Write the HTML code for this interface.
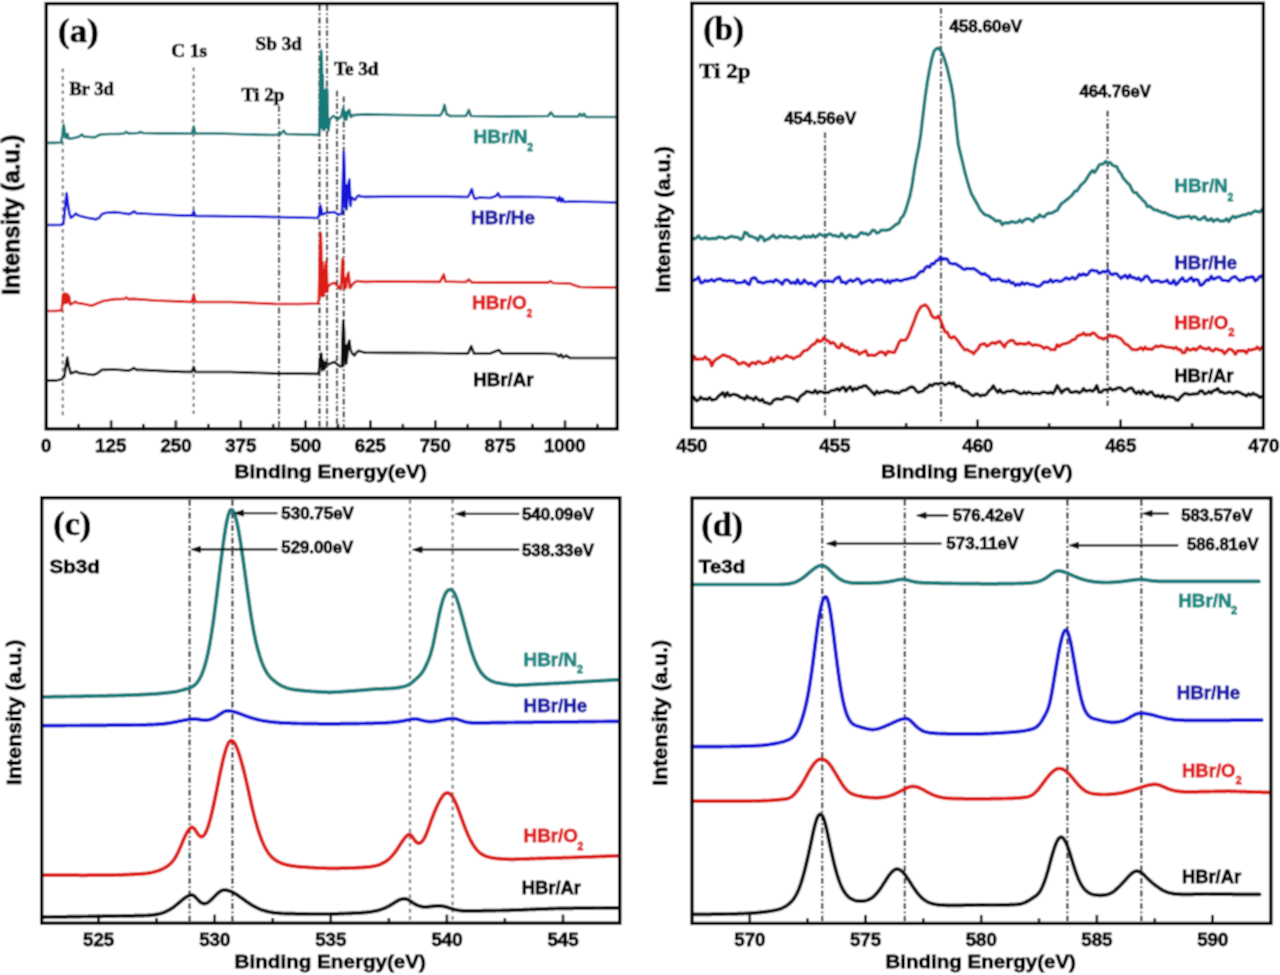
<!DOCTYPE html><html><head><meta charset="utf-8"><style>html,body{margin:0;padding:0;background:#fff;}svg{display:block;}</style></head><body>
<div id="w"><svg width="1280" height="975" viewBox="0 0 1280 975">
<defs><filter id="bl" filterUnits="userSpaceOnUse" x="0" y="0" width="1280" height="975"><feConvolveMatrix order="3" kernelMatrix="1 2 1 2 4 2 1 2 1" divisor="16" edgeMode="duplicate"/></filter></defs>
<g filter="url(#bl)">
<rect width="1280" height="975" fill="#fff"/>
<line x1="62.8" y1="68.5" x2="62.8" y2="416" stroke="#808080" stroke-width="2.3" stroke-dasharray="3.7 3.6"/>
<line x1="193.6" y1="67.5" x2="193.6" y2="414" stroke="#808080" stroke-width="2.3" stroke-dasharray="3.7 3.6"/>
<line x1="279" y1="106" x2="279" y2="428" stroke="#303030" stroke-width="2.2" stroke-dasharray="5.8 2.5 1.8 2.5"/>
<line x1="319.5" y1="5" x2="319.5" y2="427" stroke="#303030" stroke-width="2.2" stroke-dasharray="5.8 2.5 1.8 2.5"/>
<line x1="327.0" y1="5" x2="327.0" y2="427" stroke="#303030" stroke-width="2.2" stroke-dasharray="5.8 2.5 1.8 2.5"/>
<line x1="337" y1="90.7" x2="337" y2="427" stroke="#303030" stroke-width="2.2" stroke-dasharray="5.8 2.5 1.8 2.5"/>
<line x1="343.8" y1="96.4" x2="343.8" y2="427" stroke="#303030" stroke-width="2.2" stroke-dasharray="5.8 2.5 1.8 2.5"/>
<path d="M46.2 142.8 L55 142.8 L61 142.5 L62.5 135 L63.7 125 L64.8 133 L65.8 138 L66.8 135 L67.5 133.8 L68.5 138.5 L70 138.8 L75 137.8 L79 136.8 L81.7 134.5 L84 136.6 L90 137 L94.6 137.4 L100.3 134.5 L110 134 L119 133.8 L124 133.5 L126.2 131.9 L128.5 133.3 L138 133 L140.6 131.9 L143 133 L160 133.3 L169.3 133.3 L185 133.5 L192 133.5 L193.7 126.6 L195.3 133.5 L220 133.5 L250 134.5 L274 135 L280 134.5 L283.7 130.8 L286 134 L300 134.5 L318.5 134.8 L319.5 131 L320.3 70 L321.2 50.8 L321.8 62 L322.2 128 L322.7 75 L323.2 130 L323.7 90 L324.2 130 L324.8 100 L325.4 128 L326 95 L326.6 88.5 L327.2 90 L327.8 122 L328.4 130.5 L329.8 119.7 L331.5 117.5 L333.6 116 L335.5 117.5 L337.3 119.2 L339.5 118 L341.5 116 L342.6 110 L343.3 107.9 L344 112 L344.7 119.5 L345.5 112 L346.3 119.7 L347.3 115 L348.3 111 L349.2 110 L350.2 114 L351 117 L352.4 115.4 L356 114.8 L365 114.4 L400 115 L440 115.5 L442.5 112 L444.5 105 L446.5 114 L450 116 L466 116 L468.8 110 L471 116 L500 116.5 L548 116 L551 112.5 L554 116.5 L578 116.5 L580 113.8 L582 116 L584 113.8 L586 117 L600 117 L617 117" fill="none" stroke="#167a7a" stroke-width="2.7" stroke-linejoin="round" stroke-linecap="round"/>
<path d="M46.2 225 L55 225 L61 225 L63.5 223.5 L65.3 205 L66.6 193.4 L68 205 L69.5 214 L70.9 217.8 L73.5 216 L75.9 213.5 L78.5 215.5 L86 217.5 L96 219.3 L99 218 L101.8 214.2 L105 213 L114.7 212.1 L122 213 L129 214.2 L131.5 213 L134.1 211.4 L136.5 213.2 L140.6 213.5 L160 214.5 L183.7 215.7 L192 215.7 L193.7 211.4 L195.3 215.8 L250 216.5 L300 217.5 L317.5 218 L318.9 216 L320.2 205.6 L321.2 209 L322 214.5 L323.5 213.9 L326 213 L330 212.5 L334.5 212 L336.5 213.5 L338.2 214.8 L340.5 214 L342 213.9 L342.8 185 L343.8 152 L344.6 175 L345.2 207.4 L345.9 185 L346.5 209.3 L347.3 200 L348.3 185 L349.3 179.7 L350.1 195 L350.7 206 L351.2 197.2 L353 198.5 L354.9 200 L356.8 197 L358.6 195.4 L361 196.5 L365 196.8 L400 196.5 L440 196.5 L460 196.8 L468 197 L470 193 L471.8 189.1 L473.5 196 L475 198.8 L480 197.5 L490 198 L496 196 L498 193.2 L500 197 L520 196.8 L540 197 L552 197.5 L556 198 L558 201 L559.5 197 L561 201.5 L562.5 198.5 L564 202 L570 201.5 L600 202 L617 202.5" fill="none" stroke="#1212d6" stroke-width="2.7" stroke-linejoin="round" stroke-linecap="round"/>
<path d="M46.2 311 L55 311 L61.6 310.5 L62.5 302 L63.3 294 L64.2 303 L65.2 293.5 L66.2 303 L67.2 294 L68.2 302 L69 296 L70.2 304.5 L72.5 303.5 L75.2 301.7 L78 303 L83.1 303.8 L91.7 305.7 L97 303.5 L103.2 301 L114.7 299.1 L124 299 L126.2 297.5 L128.5 299.2 L133.4 298.8 L155 300.5 L183.7 301.7 L192 301.8 L193.7 294.5 L195.3 301.9 L230 302 L274 303.8 L300 304 L317.7 303.5 L318.9 300 L320 240 L320.7 232.9 L321.3 250 L321.8 296 L322.3 262 L322.8 294 L323.3 270 L323.8 296 L324.3 275 L325 292 L325.6 266 L326.2 261.5 L326.8 275 L327.3 292 L328 286.5 L331 284 L334.5 282.8 L337.5 286 L340.5 289.3 L341.5 280 L342.3 262 L342.9 258.8 L343.5 270 L344.2 288 L345 278 L345.8 288 L346.6 280 L347.5 276 L348.4 272.6 L349.2 280 L350 288 L351.5 286 L353 283.7 L356.7 281 L365 281.9 L380 281.5 L440 281.8 L442 278 L443.8 274.5 L445.5 281.5 L460 282 L466 282 L468.8 279.5 L472 282.5 L500 282.7 L548 282.7 L550.4 281.2 L553 283 L570 283.5 L575 285.5 L580 287 L600 287.3 L617 287.5" fill="none" stroke="#dc1a16" stroke-width="2.7" stroke-linejoin="round" stroke-linecap="round"/>
<path d="M46.2 380.7 L55 380.7 L61.6 379.3 L64.4 376.4 L65.8 366 L67.3 357.7 L68.8 367 L70.9 373.5 L73.5 372.5 L75.9 371.4 L78.5 372.8 L83.1 373.5 L93.2 375 L97 373.5 L101.8 369.9 L114.7 369.5 L129 370.6 L131.5 369.5 L134.1 368 L136.5 369.8 L140.6 369.9 L160 370.8 L183.7 371.8 L192 371.8 L193.7 367 L195.3 371.9 L230 372 L274 373.4 L300 373.6 L317.7 373.9 L318.9 372 L320.2 358 L321.2 353.6 L321.8 362 L322.3 370.2 L322.8 360 L323.4 369.5 L324.1 362 L324.8 368.5 L325.5 363 L326.2 362.8 L328 364.6 L331 363.2 L334.5 361.9 L337 364 L339.2 366 L342 366.5 L342.6 340 L343.3 320.8 L344 330 L344.7 360 L345.4 345 L346.2 363.7 L347.2 355 L348.3 344 L349.3 340.6 L350.2 348 L351.2 351.7 L352.8 354 L354.4 355.4 L356.5 352.5 L358.6 350.8 L361.5 351.8 L365 352.6 L400 352.8 L430 353 L460 353.5 L468 353.5 L471.2 346.2 L474 353.5 L490 353.5 L498.8 350 L502 353.5 L540 353.5 L556 354 L559 356.5 L561 354.5 L563 357.5 L566 355.5 L570 358 L600 358 L617 358" fill="none" stroke="#080808" stroke-width="2.7" stroke-linejoin="round" stroke-linecap="round"/>
<rect x="46.2" y="3.6" width="571.1" height="425.3" fill="none" stroke="#000" stroke-width="3.4"/>
<line x1="46.2" y1="428.9" x2="46.2" y2="420.4" stroke="#000" stroke-width="2.6"/>
<text x="41.01" y="451.70" font-family='"Liberation Sans", sans-serif' font-weight="bold" font-size="18.7" fill="#000" stroke="#000" stroke-width="0.8">0</text>
<line x1="111.1" y1="428.9" x2="111.1" y2="420.4" stroke="#000" stroke-width="2.6"/>
<text x="95.11" y="451.70" font-family='"Liberation Sans", sans-serif' font-weight="bold" font-size="18.7" fill="#000" stroke="#000" stroke-width="0.8">125</text>
<line x1="175.9" y1="428.9" x2="175.9" y2="420.4" stroke="#000" stroke-width="2.6"/>
<text x="160.38" y="451.70" font-family='"Liberation Sans", sans-serif' font-weight="bold" font-size="18.7" fill="#000" stroke="#000" stroke-width="0.8">250</text>
<line x1="240.8" y1="428.9" x2="240.8" y2="420.4" stroke="#000" stroke-width="2.6"/>
<text x="225.18" y="451.70" font-family='"Liberation Sans", sans-serif' font-weight="bold" font-size="18.7" fill="#000" stroke="#000" stroke-width="0.8">375</text>
<line x1="305.6" y1="428.9" x2="305.6" y2="420.4" stroke="#000" stroke-width="2.6"/>
<text x="290.13" y="451.70" font-family='"Liberation Sans", sans-serif' font-weight="bold" font-size="18.7" fill="#000" stroke="#000" stroke-width="0.8">500</text>
<line x1="370.4" y1="428.9" x2="370.4" y2="420.4" stroke="#000" stroke-width="2.6"/>
<text x="354.79" y="451.70" font-family='"Liberation Sans", sans-serif' font-weight="bold" font-size="18.7" fill="#000" stroke="#000" stroke-width="0.8">625</text>
<line x1="435.3" y1="428.9" x2="435.3" y2="420.4" stroke="#000" stroke-width="2.6"/>
<text x="419.69" y="451.70" font-family='"Liberation Sans", sans-serif' font-weight="bold" font-size="18.7" fill="#000" stroke="#000" stroke-width="0.8">750</text>
<line x1="500.2" y1="428.9" x2="500.2" y2="420.4" stroke="#000" stroke-width="2.6"/>
<text x="484.54" y="451.70" font-family='"Liberation Sans", sans-serif' font-weight="bold" font-size="18.7" fill="#000" stroke="#000" stroke-width="0.8">875</text>
<line x1="565.0" y1="428.9" x2="565.0" y2="420.4" stroke="#000" stroke-width="2.6"/>
<text x="543.96" y="451.70" font-family='"Liberation Sans", sans-serif' font-weight="bold" font-size="18.7" fill="#000" stroke="#000" stroke-width="0.8">1000</text>
<line x1="78.6" y1="428.9" x2="78.6" y2="423.9" stroke="#000" stroke-width="2.6"/>
<line x1="143.5" y1="428.9" x2="143.5" y2="423.9" stroke="#000" stroke-width="2.6"/>
<line x1="208.3" y1="428.9" x2="208.3" y2="423.9" stroke="#000" stroke-width="2.6"/>
<line x1="273.2" y1="428.9" x2="273.2" y2="423.9" stroke="#000" stroke-width="2.6"/>
<line x1="338.0" y1="428.9" x2="338.0" y2="423.9" stroke="#000" stroke-width="2.6"/>
<line x1="402.9" y1="428.9" x2="402.9" y2="423.9" stroke="#000" stroke-width="2.6"/>
<line x1="467.7" y1="428.9" x2="467.7" y2="423.9" stroke="#000" stroke-width="2.6"/>
<line x1="532.6" y1="428.9" x2="532.6" y2="423.9" stroke="#000" stroke-width="2.6"/>
<line x1="597.4" y1="428.9" x2="597.4" y2="423.9" stroke="#000" stroke-width="2.6"/>
<text x="58.08" y="41.80" font-family='"Liberation Serif", serif' font-weight="bold" font-size="33" fill="#000" stroke="#000" stroke-width="0.7" textLength="40.60" lengthAdjust="spacingAndGlyphs">(a)</text>
<text x="69.17" y="95.10" font-family='"Liberation Serif", serif' font-weight="bold" font-size="18" fill="#000" stroke="#000" stroke-width="0.7" textLength="44.65" lengthAdjust="spacingAndGlyphs">Br 3d</text>
<text x="171.19" y="57.30" font-family='"Liberation Serif", serif' font-weight="bold" font-size="18" fill="#000" stroke="#000" stroke-width="0.7" textLength="35.77" lengthAdjust="spacingAndGlyphs">C 1s</text>
<text x="255.49" y="49.50" font-family='"Liberation Serif", serif' font-weight="bold" font-size="18" fill="#000" stroke="#000" stroke-width="0.7" textLength="46.52" lengthAdjust="spacingAndGlyphs">Sb 3d</text>
<text x="241.41" y="101.10" font-family='"Liberation Serif", serif' font-weight="bold" font-size="18" fill="#000" stroke="#000" stroke-width="0.7" textLength="43.17" lengthAdjust="spacingAndGlyphs">Ti 2p</text>
<text x="333.91" y="75.00" font-family='"Liberation Serif", serif' font-weight="bold" font-size="18" fill="#000" stroke="#000" stroke-width="0.7" textLength="44.58" lengthAdjust="spacingAndGlyphs">Te 3d</text>
<text x="473.61" y="143.40" font-family='"Liberation Sans", sans-serif' font-weight="bold" font-size="18.5" fill="#1f8a84" stroke="#1f8a84" stroke-width="0.8" textLength="53.84" lengthAdjust="spacingAndGlyphs">HBr/N</text>
<text x="527.29" y="151.40" font-family='"Liberation Sans", sans-serif' font-weight="bold" font-size="11" fill="#1f8a84" stroke="#1f8a84" stroke-width="0.8" textLength="5.79" lengthAdjust="spacingAndGlyphs">2</text>
<text x="471.13" y="224.00" font-family='"Liberation Sans", sans-serif' font-weight="bold" font-size="18.5" fill="#2020a8" stroke="#2020a8" stroke-width="0.8" textLength="63.78" lengthAdjust="spacingAndGlyphs">HBr/He</text>
<text x="472.02" y="309.00" font-family='"Liberation Sans", sans-serif' font-weight="bold" font-size="18.5" fill="#e02222" stroke="#e02222" stroke-width="0.8" textLength="54.61" lengthAdjust="spacingAndGlyphs">HBr/O</text>
<text x="526.71" y="317.30" font-family='"Liberation Sans", sans-serif' font-weight="bold" font-size="11" fill="#e02222" stroke="#e02222" stroke-width="0.8" textLength="5.45" lengthAdjust="spacingAndGlyphs">2</text>
<text x="473.34" y="385.60" font-family='"Liberation Sans", sans-serif' font-weight="bold" font-size="18.5" fill="#000000" stroke="#000000" stroke-width="0.8" textLength="60.20" lengthAdjust="spacingAndGlyphs">HBr/Ar</text>
<text x="234.60" y="477.70" font-family='"Liberation Sans", sans-serif' font-weight="bold" font-size="19.2" fill="#000" stroke="#000" stroke-width="0.8" textLength="192.25" lengthAdjust="spacingAndGlyphs">Binding Energy(eV)</text>
<text transform="translate(19.30,295.09) rotate(-90)" x="0" y="0" font-family='"Liberation Sans", sans-serif' font-weight="bold" font-size="23.3" fill="#000" stroke="#000" stroke-width="0.8" textLength="160.39" lengthAdjust="spacingAndGlyphs">Intensity (a.u.)</text>
<line x1="825" y1="132.5" x2="825" y2="416" stroke="#303030" stroke-width="2.2" stroke-dasharray="5.8 2.5 1.8 2.5"/>
<line x1="941" y1="8" x2="941" y2="424" stroke="#303030" stroke-width="2.2" stroke-dasharray="5.8 2.5 1.8 2.5"/>
<line x1="1107.6" y1="110.7" x2="1107.6" y2="406" stroke="#303030" stroke-width="2.2" stroke-dasharray="5.8 2.5 1.8 2.5"/>
<path d="M692 238 L694.2 238.9 L696.4 237.8 L698.6 235.8 L700.8 238.9 L703 238.6 L705.2 237.2 L707.4 238.8 L709.6 238.8 L711.8 238.5 L714 238.3 L716.2 238.7 L718.4 236.9 L720.6 237.4 L722.8 237.3 L725 238.8 L727.2 238 L729.4 237.1 L731.6 236.2 L733.8 236.9 L736 237.3 L738.2 237.3 L740.4 239.6 L742.6 238.4 L744.8 232.3 L747 233 L749.2 236 L751.4 236.3 L753.6 237.3 L755.8 238.1 L758 240.4 L760.2 235.9 L762.4 237 L764.6 240.9 L766.8 239.4 L769 238.8 L771.2 236.7 L773.4 235 L775.6 237.8 L777.8 237.9 L780 235.7 L782.2 236.5 L784.4 237.3 L786.6 236.2 L788.8 237.3 L791 237.7 L793.2 237.3 L795.4 236.6 L797.6 238.2 L799.8 238.7 L802 237.5 L804.2 235.8 L806.4 237.5 L808.6 236.2 L810.8 237.4 L813 235.1 L815.2 237.4 L817.4 236 L819.6 233.9 L821.8 235.1 L824 236.1 L826.2 236.2 L828.4 234.1 L830.6 233.9 L832.8 235.9 L835 235.3 L837.2 236.5 L839.4 236.9 L841.6 233.5 L843.8 236.3 L846 238.1 L848.2 235.6 L850.4 234.8 L852.6 237 L854.8 236.6 L857 236.8 L859.2 234.4 L861.4 232.4 L863.6 233.7 L865.8 233.5 L868 234.8 L870.2 233.4 L872.4 230.2 L874.6 230.5 L876.8 233.1 L879 232.5 L881.2 230.1 L883.4 230.2 L885.6 230.3 L887.8 229.8 L890 229.3 L892.2 227.5 L894.4 225.7 L896.6 224.2 L898.8 223 L901 218.1 L903.2 216 L905.4 210.9 L907.6 203.8 L909.8 196.3 L912 185.7 L914.2 170.7 L916.4 158.3 L918.6 148.2 L920.8 134 L923 115 L925.2 96.7 L927.4 81.4 L929.6 69.5 L931.8 58.8 L934 51.2 L936.2 48.9 L938.4 48 L940.6 50.4 L942.8 54.6 L945 60.6 L947.2 68.2 L949.4 77.7 L951.6 87 L953.8 101.1 L956 124.7 L958.2 144.1 L960.4 153.4 L962.6 162.3 L964.8 171.8 L967 179.9 L969.2 187.3 L971.4 193.7 L973.6 197.6 L975.8 201.6 L978 205.4 L980.2 209.7 L982.4 212.3 L984.6 214.5 L986.8 215.4 L989 215.8 L991.2 217.6 L993.4 218.8 L995.6 221 L997.8 220.7 L1000 220.9 L1002.2 224.8 L1004.4 222.9 L1006.6 222.6 L1008.8 223.1 L1011 221.7 L1013.2 221.8 L1015.4 222.7 L1017.6 222.1 L1019.8 220.1 L1022 222.3 L1024.2 220.2 L1026.4 218.9 L1028.6 218.8 L1030.8 219.7 L1033 221.5 L1035.2 217.8 L1037.4 217.7 L1039.6 214.7 L1041.8 216.5 L1044 217 L1046.2 214.7 L1048.4 213.2 L1050.6 213.3 L1052.8 212.6 L1055 211.2 L1057.2 210.3 L1059.4 206.6 L1061.6 203.6 L1063.8 202 L1066 200.3 L1068.2 198.6 L1070.4 196.6 L1072.6 194.5 L1074.8 191.1 L1077 190.8 L1079.2 187.5 L1081.4 184.5 L1083.6 182.8 L1085.8 180.2 L1088 176.4 L1090.2 173.1 L1092.4 170.5 L1094.6 172.5 L1096.8 169.2 L1099 165.2 L1101.2 164.1 L1103.4 163.8 L1105.6 161.3 L1107.8 162.6 L1110 162.3 L1112.2 164.9 L1114.4 166.2 L1116.6 166.4 L1118.8 171.1 L1121 173.6 L1123.2 178.1 L1125.4 180.5 L1127.6 183.1 L1129.8 185 L1132 189.9 L1134.2 192.7 L1136.4 192.6 L1138.6 195.8 L1140.8 197.8 L1143 200.5 L1145.2 202.2 L1147.4 206.7 L1149.6 206.2 L1151.8 207.8 L1154 209.8 L1156.2 209.8 L1158.4 210.9 L1160.6 211.7 L1162.8 212.8 L1165 212.5 L1167.2 214 L1169.4 215.1 L1171.6 215.6 L1173.8 216.5 L1176 216.8 L1178.2 218.3 L1180.4 217.2 L1182.6 217.3 L1184.8 216.7 L1187 216.7 L1189.2 216.2 L1191.4 218.5 L1193.6 216.6 L1195.8 217.2 L1198 219.3 L1200.2 219.6 L1202.4 218.2 L1204.6 216.5 L1206.8 220 L1209 220.3 L1211.2 218.6 L1213.4 221.4 L1215.6 219.8 L1217.8 219.2 L1220 221.1 L1222.2 221 L1224.4 220.8 L1226.6 218.7 L1228.8 221.7 L1231 218.3 L1233.2 216.2 L1235.4 217.8 L1237.6 216.4 L1239.8 216.3 L1242 215.1 L1244.2 214.8 L1246.4 214.5 L1248.6 213 L1250.8 214 L1253 212.1 L1255.2 210.9 L1257.4 211.7 L1259.6 211.8 L1261.8 210.3 L1262 209.4" fill="none" stroke="#167a7a" stroke-width="3.3" stroke-linejoin="round" stroke-linecap="round"/>
<path d="M692 281.3 L694.2 280.1 L696.4 279.2 L698.6 277 L700.8 282.9 L703 282.6 L705.2 280.2 L707.4 281.4 L709.6 280.6 L711.8 279.5 L714 281.4 L716.2 279.7 L718.4 279.1 L720.6 278.7 L722.8 280.6 L725 280.4 L727.2 281.2 L729.4 280.2 L731.6 281 L733.8 280.4 L736 282.9 L738.2 282.6 L740.4 282.7 L742.6 282.4 L744.8 280.6 L747 283.3 L749.2 284.6 L751.4 278.9 L753.6 277.6 L755.8 278.4 L758 282 L760.2 281.8 L762.4 283.1 L764.6 282.6 L766.8 281.7 L769 281.6 L771.2 281.2 L773.4 282.3 L775.6 279.6 L777.8 280.5 L780 282.3 L782.2 284.4 L784.4 280.6 L786.6 279.6 L788.8 280.8 L791 283.3 L793.2 282.2 L795.4 283.6 L797.6 279.6 L799.8 283.7 L802 283.7 L804.2 279.9 L806.4 282.2 L808.6 284 L810.8 282.7 L813 284.2 L815.2 286.1 L817.4 282.8 L819.6 281 L821.8 280.4 L824 282.3 L826.2 281.3 L828.4 281 L830.6 281.3 L832.8 282 L835 279.2 L837.2 277.6 L839.4 276.9 L841.6 282.4 L843.8 282 L846 283.6 L848.2 281.2 L850.4 279.9 L852.6 281.6 L854.8 280.6 L857 278.6 L859.2 279.6 L861.4 283.8 L863.6 282.3 L865.8 281.7 L868 280.4 L870.2 280 L872.4 282.3 L874.6 280.9 L876.8 279.6 L879 280.3 L881.2 279.5 L883.4 281.4 L885.6 282.7 L887.8 280.3 L890 283 L892.2 280.3 L894.4 280.8 L896.6 279.6 L898.8 280.4 L901 280.9 L903.2 280 L905.4 279.3 L907.6 279 L909.8 278.4 L912 277.5 L914.2 277.6 L916.4 275.9 L918.6 273.5 L920.8 271.3 L923 271.5 L925.2 268.1 L927.4 266.2 L929.6 267.3 L931.8 263.6 L934 263.8 L936.2 260.8 L938.4 260 L940.6 256.8 L942.8 259.4 L945 258.6 L947.2 259 L949.4 263 L951.6 263.8 L953.8 263.9 L956 263.9 L958.2 265.6 L960.4 266.7 L962.6 268.7 L964.8 269.5 L967 268.3 L969.2 268.6 L971.4 268.9 L973.6 268.3 L975.8 269.8 L978 271.4 L980.2 273.3 L982.4 274.5 L984.6 273.4 L986.8 275.6 L989 276.6 L991.2 280.2 L993.4 279.4 L995.6 280.2 L997.8 278.8 L1000 279.3 L1002.2 281.1 L1004.4 281.1 L1006.6 282 L1008.8 280.3 L1011 283.1 L1013.2 282.4 L1015.4 285.7 L1017.6 284 L1019.8 285.2 L1022 282.4 L1024.2 284.5 L1026.4 283.2 L1028.6 283.7 L1030.8 284.7 L1033 284.5 L1035.2 285.6 L1037.4 286.5 L1039.6 286.1 L1041.8 284.2 L1044 281.9 L1046.2 282.1 L1048.4 282 L1050.6 279.6 L1052.8 282.2 L1055 280.9 L1057.2 280.4 L1059.4 281.6 L1061.6 281 L1063.8 279.6 L1066 277.7 L1068.2 279 L1070.4 278.8 L1072.6 277.1 L1074.8 279.1 L1077 277.7 L1079.2 274.1 L1081.4 275.3 L1083.6 273.7 L1085.8 275.4 L1088 274.2 L1090.2 270.9 L1092.4 270.1 L1094.6 270.9 L1096.8 270.8 L1099 273.4 L1101.2 272.4 L1103.4 271.3 L1105.6 272.2 L1107.8 269.8 L1110 273.2 L1112.2 274.8 L1114.4 273.7 L1116.6 273.6 L1118.8 276.1 L1121 278.5 L1123.2 276.5 L1125.4 275.3 L1127.6 278.3 L1129.8 274.9 L1132 277.7 L1134.2 277.4 L1136.4 279.3 L1138.6 277.8 L1140.8 280.7 L1143 279.5 L1145.2 276.3 L1147.4 276.1 L1149.6 279.3 L1151.8 282.2 L1154 281 L1156.2 280.7 L1158.4 280.7 L1160.6 282.2 L1162.8 282 L1165 281.5 L1167.2 280.1 L1169.4 283.4 L1171.6 283.5 L1173.8 280.2 L1176 284.8 L1178.2 282.8 L1180.4 279.8 L1182.6 277.8 L1184.8 281.3 L1187 281.4 L1189.2 279.1 L1191.4 277.5 L1193.6 281.3 L1195.8 279.3 L1198 279.9 L1200.2 285.3 L1202.4 284.8 L1204.6 282.1 L1206.8 279.7 L1209 280.3 L1211.2 276.3 L1213.4 279.3 L1215.6 278.4 L1217.8 277.1 L1220 277.1 L1222.2 280.4 L1224.4 280.4 L1226.6 280.6 L1228.8 281.2 L1231 278.4 L1233.2 277.1 L1235.4 276.5 L1237.6 279 L1239.8 280.8 L1242 279.7 L1244.2 280 L1246.4 277.3 L1248.6 277.6 L1250.8 277 L1253 276.8 L1255.2 280.9 L1257.4 279.5 L1259.6 276.5 L1261.8 275.9 L1262 277" fill="none" stroke="#1212d6" stroke-width="3.3" stroke-linejoin="round" stroke-linecap="round"/>
<path d="M692 361.7 L694.2 356.3 L696.4 359.7 L698.6 359.1 L700.8 359.2 L703 359.2 L705.2 356.8 L707.4 359.1 L709.6 359.9 L711.8 365.9 L714 361.4 L716.2 359.2 L718.4 358.1 L720.6 356.5 L722.8 355 L725 355.3 L727.2 356.5 L729.4 356.7 L731.6 358.8 L733.8 359.2 L736 361 L738.2 363.9 L740.4 363.8 L742.6 362.3 L744.8 362.7 L747 364.4 L749.2 366.2 L751.4 362.9 L753.6 362.6 L755.8 364 L758 361.3 L760.2 362 L762.4 363.8 L764.6 363.3 L766.8 362.4 L769 362.1 L771.2 357.6 L773.4 361.6 L775.6 358.9 L777.8 356.9 L780 358.5 L782.2 358.9 L784.4 356.8 L786.6 355.5 L788.8 356.8 L791 357.1 L793.2 358.8 L795.4 357.6 L797.6 356.3 L799.8 355.9 L802 353 L804.2 350.7 L806.4 350.4 L808.6 348.9 L810.8 346.3 L813 344.4 L815.2 343.5 L817.4 339.8 L819.6 341.6 L821.8 340.7 L824 337.5 L826.2 340.1 L828.4 340.9 L830.6 343.6 L832.8 342.3 L835 344.1 L837.2 347.3 L839.4 347.9 L841.6 343.6 L843.8 345.8 L846 347.6 L848.2 347.5 L850.4 350.3 L852.6 349.7 L854.8 351.8 L857 351.1 L859.2 354.4 L861.4 352.9 L863.6 351.8 L865.8 350.6 L868 355.6 L870.2 355.2 L872.4 355.2 L874.6 355.7 L876.8 354.3 L879 352.4 L881.2 351.8 L883.4 352.4 L885.6 355.1 L887.8 351.3 L890 351.8 L892.2 352.2 L894.4 352.5 L896.6 348.3 L898.8 342.8 L901 340 L903.2 340.4 L905.4 340.2 L907.6 337.3 L909.8 332.5 L912 326.6 L914.2 321.2 L916.4 314.8 L918.6 310.3 L920.8 306.8 L923 305.7 L925.2 304.9 L927.4 306.6 L929.6 310.3 L931.8 315.8 L934 317.7 L936.2 318 L938.4 315.9 L940.6 320.3 L942.8 326.1 L945 331.8 L947.2 332.2 L949.4 336.8 L951.6 338.1 L953.8 336.5 L956 338.4 L958.2 341.2 L960.4 344.5 L962.6 347.3 L964.8 350 L967 349.3 L969.2 351 L971.4 351.7 L973.6 353.8 L975.8 351.1 L978 348.9 L980.2 344.8 L982.4 344.1 L984.6 343.6 L986.8 346.3 L989 345.1 L991.2 343.1 L993.4 342.7 L995.6 343.6 L997.8 341.8 L1000 341.4 L1002.2 344.2 L1004.4 347.1 L1006.6 343 L1008.8 341.5 L1011 340.3 L1013.2 340.4 L1015.4 343.5 L1017.6 344.4 L1019.8 343.3 L1022 343.8 L1024.2 344 L1026.4 344 L1028.6 342.4 L1030.8 344.2 L1033 345.5 L1035.2 344.7 L1037.4 345.2 L1039.6 345.3 L1041.8 346.6 L1044 348.5 L1046.2 347.2 L1048.4 347.7 L1050.6 349.5 L1052.8 349.7 L1055 349.7 L1057.2 344.8 L1059.4 346.5 L1061.6 344.5 L1063.8 343.8 L1066 343.5 L1068.2 342.8 L1070.4 341.5 L1072.6 339.7 L1074.8 339.6 L1077 336.5 L1079.2 335.1 L1081.4 334.8 L1083.6 332.9 L1085.8 335.3 L1088 334.4 L1090.2 335.2 L1092.4 332.8 L1094.6 333.4 L1096.8 335.7 L1099 337.9 L1101.2 337.9 L1103.4 339.4 L1105.6 337.7 L1107.8 337 L1110 334.9 L1112.2 336.8 L1114.4 335.9 L1116.6 336.5 L1118.8 337.8 L1121 338.8 L1123.2 341.6 L1125.4 344 L1127.6 344.9 L1129.8 347 L1132 349.5 L1134.2 349.5 L1136.4 349.9 L1138.6 349.1 L1140.8 347.5 L1143 349.9 L1145.2 347.1 L1147.4 349.4 L1149.6 348.9 L1151.8 349.6 L1154 347.5 L1156.2 345.9 L1158.4 346.9 L1160.6 345.7 L1162.8 346.1 L1165 346.8 L1167.2 347.1 L1169.4 347.5 L1171.6 347.6 L1173.8 348.6 L1176 347.2 L1178.2 349.6 L1180.4 349.3 L1182.6 352.8 L1184.8 352.7 L1187 348 L1189.2 350.1 L1191.4 349.8 L1193.6 348.4 L1195.8 350.1 L1198 348.4 L1200.2 346.2 L1202.4 348.1 L1204.6 348.8 L1206.8 349 L1209 347.7 L1211.2 350.5 L1213.4 351 L1215.6 348.6 L1217.8 349.3 L1220 350.4 L1222.2 350.5 L1224.4 353.8 L1226.6 351.5 L1228.8 349.1 L1231 349.3 L1233.2 351.1 L1235.4 354.4 L1237.6 351 L1239.8 350.7 L1242 351 L1244.2 350.7 L1246.4 353.1 L1248.6 349.5 L1250.8 350.2 L1253 349.4 L1255.2 349.1 L1257.4 346.9 L1259.6 349.7 L1261.8 347.3" fill="none" stroke="#dc1a16" stroke-width="3.3" stroke-linejoin="round" stroke-linecap="round"/>
<path d="M692 395.9 L694.2 397.7 L696.4 400.9 L698.6 400 L700.8 397.1 L703 399.1 L705.2 398.9 L707.4 399.6 L709.6 397.4 L711.8 400 L714 399.7 L716.2 399 L718.4 396.2 L720.6 394.6 L722.8 392.4 L725 396.8 L727.2 392.5 L729.4 395.9 L731.6 394.9 L733.8 394.2 L736 394.9 L738.2 395.6 L740.4 397.4 L742.6 397.8 L744.8 399.5 L747 396 L749.2 398.1 L751.4 398.1 L753.6 400.1 L755.8 397.1 L758 399.5 L760.2 400.8 L762.4 399.3 L764.6 402.7 L766.8 402.6 L769 403.9 L771.2 403.6 L773.4 400.4 L775.6 399.2 L777.8 398.7 L780 399.3 L782.2 399.4 L784.4 397.1 L786.6 396.9 L788.8 396.9 L791 397.5 L793.2 398.3 L795.4 399.3 L797.6 401.3 L799.8 397.1 L802 395 L804.2 393.8 L806.4 391.4 L808.6 391.7 L810.8 392.4 L813 392.9 L815.2 390.3 L817.4 393.4 L819.6 391.4 L821.8 391.8 L824 392.8 L826.2 392.5 L828.4 392.6 L830.6 391 L832.8 390.3 L835 390.1 L837.2 388.5 L839.4 390.7 L841.6 387.8 L843.8 387.1 L846 391.4 L848.2 388.3 L850.4 386.7 L852.6 390.7 L854.8 388.3 L857 389.4 L859.2 387.1 L861.4 387.4 L863.6 385.7 L865.8 385.7 L868 387.8 L870.2 390 L872.4 392.4 L874.6 394.7 L876.8 391.2 L879 393.4 L881.2 392.1 L883.4 392.4 L885.6 390.9 L887.8 390.8 L890 391.9 L892.2 391.8 L894.4 393.2 L896.6 392.3 L898.8 393.4 L901 391.4 L903.2 390.3 L905.4 390.3 L907.6 388.8 L909.8 387.3 L912 386.8 L914.2 388 L916.4 391.1 L918.6 392.6 L920.8 391.6 L923 390.9 L925.2 388.4 L927.4 387.5 L929.6 384.7 L931.8 385.9 L934 384.1 L936.2 383.5 L938.4 384.1 L940.6 383.2 L942.8 383.1 L945 385.2 L947.2 383.9 L949.4 382.7 L951.6 384.2 L953.8 382.7 L956 387 L958.2 385.8 L960.4 386.7 L962.6 390 L964.8 390.9 L967 391.2 L969.2 393.3 L971.4 395 L973.6 395.9 L975.8 393.8 L978 394.2 L980.2 396 L982.4 395 L984.6 395.4 L986.8 393.9 L989 390.7 L991.2 389 L993.4 385.7 L995.6 389.7 L997.8 392.4 L1000 389.6 L1002.2 392.7 L1004.4 392.9 L1006.6 391.3 L1008.8 391.3 L1011 391.3 L1013.2 390.2 L1015.4 391.2 L1017.6 392.1 L1019.8 393.5 L1022 393.7 L1024.2 392 L1026.4 393.8 L1028.6 392 L1030.8 392.8 L1033 393.9 L1035.2 393.4 L1037.4 393.3 L1039.6 393.8 L1041.8 392.4 L1044 392 L1046.2 392.5 L1048.4 393.4 L1050.6 392.1 L1052.8 393.7 L1055 390.5 L1057.2 385.4 L1059.4 389 L1061.6 392.8 L1063.8 390.5 L1066 389.1 L1068.2 388.9 L1070.4 392.4 L1072.6 392.4 L1074.8 391.7 L1077 391.5 L1079.2 392.9 L1081.4 391.6 L1083.6 388.5 L1085.8 391.1 L1088 390.6 L1090.2 390.2 L1092.4 391.4 L1094.6 389.5 L1096.8 385.6 L1099 392.2 L1101.2 392.3 L1103.4 390.1 L1105.6 389.5 L1107.8 390 L1110 388.1 L1112.2 390 L1114.4 389.4 L1116.6 388.6 L1118.8 387.5 L1121 387.9 L1123.2 390.6 L1125.4 391.1 L1127.6 389.5 L1129.8 388.1 L1132 388.2 L1134.2 391.5 L1136.4 393.7 L1138.6 391.3 L1140.8 394.1 L1143 390.6 L1145.2 393 L1147.4 394.4 L1149.6 392.1 L1151.8 392 L1154 395.1 L1156.2 396.5 L1158.4 395.2 L1160.6 397.3 L1162.8 395.2 L1165 398.4 L1167.2 396.6 L1169.4 396.5 L1171.6 397.1 L1173.8 397.3 L1176 399.9 L1178.2 400.3 L1180.4 397.3 L1182.6 395.2 L1184.8 393.4 L1187 393.7 L1189.2 394.6 L1191.4 394.3 L1193.6 394 L1195.8 393.8 L1198 393.7 L1200.2 390.8 L1202.4 391 L1204.6 393.9 L1206.8 393.4 L1209 391.4 L1211.2 393.2 L1213.4 390.6 L1215.6 390.1 L1217.8 388.4 L1220 392.2 L1222.2 391.9 L1224.4 393.4 L1226.6 393 L1228.8 391.9 L1231 392.3 L1233.2 393.7 L1235.4 391.9 L1237.6 391.7 L1239.8 392.5 L1242 393.9 L1244.2 394.8 L1246.4 396 L1248.6 393.8 L1250.8 395.1 L1253 393.1 L1255.2 394.7 L1257.4 395.1 L1259.6 397.5 L1261.8 396.4" fill="none" stroke="#080808" stroke-width="3.3" stroke-linejoin="round" stroke-linecap="round"/>
<rect x="691.8" y="3.3" width="571.6" height="424.7" fill="none" stroke="#000" stroke-width="3.4"/>
<line x1="691.6" y1="428.0" x2="691.6" y2="419.5" stroke="#000" stroke-width="2.6"/>
<text x="676.27" y="451.70" font-family='"Liberation Sans", sans-serif' font-weight="bold" font-size="18.7" fill="#000" stroke="#000" stroke-width="0.8">450</text>
<line x1="834.6" y1="428.0" x2="834.6" y2="419.5" stroke="#000" stroke-width="2.6"/>
<text x="819.13" y="451.70" font-family='"Liberation Sans", sans-serif' font-weight="bold" font-size="18.7" fill="#000" stroke="#000" stroke-width="0.8">455</text>
<line x1="977.6" y1="428.0" x2="977.6" y2="419.5" stroke="#000" stroke-width="2.6"/>
<text x="962.27" y="451.70" font-family='"Liberation Sans", sans-serif' font-weight="bold" font-size="18.7" fill="#000" stroke="#000" stroke-width="0.8">460</text>
<line x1="1120.6" y1="428.0" x2="1120.6" y2="419.5" stroke="#000" stroke-width="2.6"/>
<text x="1105.13" y="451.70" font-family='"Liberation Sans", sans-serif' font-weight="bold" font-size="18.7" fill="#000" stroke="#000" stroke-width="0.8">465</text>
<line x1="1263.6" y1="428.0" x2="1263.6" y2="419.5" stroke="#000" stroke-width="2.6"/>
<text x="1248.27" y="451.70" font-family='"Liberation Sans", sans-serif' font-weight="bold" font-size="18.7" fill="#000" stroke="#000" stroke-width="0.8">470</text>
<line x1="763.1" y1="428.0" x2="763.1" y2="423.0" stroke="#000" stroke-width="2.6"/>
<line x1="906.1" y1="428.0" x2="906.1" y2="423.0" stroke="#000" stroke-width="2.6"/>
<line x1="1049.1" y1="428.0" x2="1049.1" y2="423.0" stroke="#000" stroke-width="2.6"/>
<line x1="1192.1" y1="428.0" x2="1192.1" y2="423.0" stroke="#000" stroke-width="2.6"/>
<text x="703.24" y="39.90" font-family='"Liberation Serif", serif' font-weight="bold" font-size="33" fill="#000" stroke="#000" stroke-width="0.7" textLength="41.03" lengthAdjust="spacingAndGlyphs">(b)</text>
<text x="699.10" y="78.20" font-family='"Liberation Serif", serif' font-weight="bold" font-size="20.5" fill="#000" stroke="#000" stroke-width="0.7" textLength="51.44" lengthAdjust="spacingAndGlyphs">Ti 2p</text>
<text x="949.19" y="31.90" font-family='"Liberation Sans", sans-serif' font-weight="bold" font-size="16.2" fill="#000" stroke="#000" stroke-width="0.8" textLength="73.07" lengthAdjust="spacingAndGlyphs">458.60eV</text>
<text x="784.20" y="124.00" font-family='"Liberation Sans", sans-serif' font-weight="bold" font-size="16.2" fill="#000" stroke="#000" stroke-width="0.8" textLength="71.97" lengthAdjust="spacingAndGlyphs">454.56eV</text>
<text x="1079.50" y="96.50" font-family='"Liberation Sans", sans-serif' font-weight="bold" font-size="16.2" fill="#000" stroke="#000" stroke-width="0.8" textLength="71.47" lengthAdjust="spacingAndGlyphs">464.76eV</text>
<text x="1174.32" y="191.80" font-family='"Liberation Sans", sans-serif' font-weight="bold" font-size="18.5" fill="#1f8a84" stroke="#1f8a84" stroke-width="0.8" textLength="53.42" lengthAdjust="spacingAndGlyphs">HBr/N</text>
<text x="1227.39" y="200.80" font-family='"Liberation Sans", sans-serif' font-weight="bold" font-size="11" fill="#1f8a84" stroke="#1f8a84" stroke-width="0.8" textLength="5.79" lengthAdjust="spacingAndGlyphs">2</text>
<text x="1174.55" y="268.75" font-family='"Liberation Sans", sans-serif' font-weight="bold" font-size="18.5" fill="#2020a8" stroke="#2020a8" stroke-width="0.8" textLength="62.54" lengthAdjust="spacingAndGlyphs">HBr/He</text>
<text x="1174.24" y="329.00" font-family='"Liberation Sans", sans-serif' font-weight="bold" font-size="18.5" fill="#e02222" stroke="#e02222" stroke-width="0.8" textLength="53.94" lengthAdjust="spacingAndGlyphs">HBr/O</text>
<text x="1228.16" y="336.20" font-family='"Liberation Sans", sans-serif' font-weight="bold" font-size="11" fill="#e02222" stroke="#e02222" stroke-width="0.8" textLength="6.26" lengthAdjust="spacingAndGlyphs">2</text>
<text x="1174.25" y="381.90" font-family='"Liberation Sans", sans-serif' font-weight="bold" font-size="18.5" fill="#000000" stroke="#000000" stroke-width="0.8" textLength="59.28" lengthAdjust="spacingAndGlyphs">HBr/Ar</text>
<text x="881.11" y="477.70" font-family='"Liberation Sans", sans-serif' font-weight="bold" font-size="19.2" fill="#000" stroke="#000" stroke-width="0.8" textLength="191.44" lengthAdjust="spacingAndGlyphs">Binding Energy(eV)</text>
<text transform="translate(670.00,292.86) rotate(-90)" x="0" y="0" font-family='"Liberation Sans", sans-serif' font-weight="bold" font-size="20.2" fill="#000" stroke="#000" stroke-width="0.8" textLength="146.86" lengthAdjust="spacingAndGlyphs">Intensity (a.u.)</text>
<line x1="189.6" y1="500" x2="189.6" y2="921" stroke="#303030" stroke-width="2.2" stroke-dasharray="5.8 2.5 1.8 2.5"/>
<line x1="232.4" y1="500" x2="232.4" y2="921" stroke="#303030" stroke-width="2.2" stroke-dasharray="5.8 2.5 1.8 2.5"/>
<line x1="410.0" y1="500" x2="410.0" y2="921" stroke="#808080" stroke-width="2.3" stroke-dasharray="3.7 3.6"/>
<line x1="452.6" y1="500" x2="452.6" y2="921" stroke="#808080" stroke-width="2.3" stroke-dasharray="3.7 3.6"/>
<path d="M41.7 696.9 L42.7 696.9 L43.7 696.9 L44.7 696.9 L45.7 696.8 L46.7 696.8 L47.7 696.8 L48.7 696.8 L49.7 696.8 L50.7 696.8 L51.7 696.8 L52.7 696.7 L53.7 696.7 L54.7 696.7 L55.7 696.7 L56.7 696.7 L57.7 696.7 L58.7 696.7 L59.7 696.6 L60.7 696.6 L61.7 696.6 L62.7 696.6 L63.7 696.6 L64.7 696.6 L65.7 696.5 L66.7 696.5 L67.7 696.5 L68.7 696.5 L69.7 696.5 L70.7 696.5 L71.7 696.4 L72.7 696.4 L73.7 696.4 L74.7 696.4 L75.7 696.4 L76.7 696.4 L77.7 696.3 L78.7 696.3 L79.7 696.3 L80.7 696.3 L81.7 696.3 L82.7 696.3 L83.7 696.2 L84.7 696.2 L85.7 696.2 L86.7 696.2 L87.7 696.2 L88.7 696.1 L89.7 696.1 L90.7 696.1 L91.7 696.1 L92.7 696.1 L93.7 696 L94.7 696 L95.7 696 L96.7 696 L97.7 696 L98.7 695.9 L99.7 695.9 L100.7 695.9 L101.7 695.9 L102.7 695.9 L103.7 695.8 L104.7 695.8 L105.7 695.8 L106.7 695.8 L107.7 695.7 L108.7 695.7 L109.7 695.7 L110.7 695.7 L111.7 695.6 L112.7 695.6 L113.7 695.6 L114.7 695.6 L115.7 695.5 L116.7 695.5 L117.7 695.5 L118.7 695.5 L119.7 695.4 L120.7 695.4 L121.7 695.4 L122.7 695.3 L123.7 695.3 L124.7 695.3 L125.7 695.2 L126.7 695.2 L127.7 695.2 L128.7 695.1 L129.7 695.1 L130.7 695.1 L131.7 695 L132.7 695 L133.7 695 L134.7 694.9 L135.7 694.9 L136.7 694.9 L137.7 694.8 L138.7 694.8 L139.7 694.7 L140.7 694.7 L141.7 694.6 L142.7 694.6 L143.7 694.5 L144.7 694.5 L145.7 694.4 L146.7 694.4 L147.7 694.3 L148.7 694.3 L149.7 694.2 L150.7 694.2 L151.7 694.1 L152.7 694.1 L153.7 694 L154.7 693.9 L155.7 693.9 L156.7 693.8 L157.7 693.7 L158.7 693.6 L159.7 693.5 L160.7 693.4 L161.7 693.3 L162.7 693.2 L163.7 693.1 L164.7 693 L165.7 692.9 L166.7 692.8 L167.7 692.7 L168.7 692.6 L169.7 692.5 L170.7 692.4 L171.7 692.2 L172.7 692.1 L173.7 692 L174.7 691.8 L175.7 691.7 L176.7 691.5 L177.7 691.2 L178.7 691 L179.7 690.7 L180.7 690.5 L181.7 690.2 L182.7 689.9 L183.7 689.6 L184.7 689.4 L185.7 689.1 L186.7 688.9 L187.7 688.6 L188.7 688.2 L189.7 687.9 L190.7 687.5 L191.7 687 L192.7 686.4 L193.7 685.8 L194.7 685 L195.7 684.1 L196.7 683 L197.7 681.8 L198.7 680.3 L199.7 678.6 L200.7 676.7 L201.7 674.5 L202.7 672 L203.7 669.2 L204.7 666.1 L205.7 662.5 L206.7 658.6 L207.7 654.3 L208.7 649.5 L209.7 644.3 L210.7 638.5 L211.7 632.3 L212.7 625.7 L213.7 618.7 L214.7 611.3 L215.7 603.6 L216.7 595.7 L217.7 587.6 L218.7 579.5 L219.7 571.3 L220.7 563.3 L221.7 555.3 L222.7 547.7 L223.7 540.3 L224.7 533.5 L225.7 527.3 L226.7 521.8 L227.7 517.3 L228.7 513.7 L229.7 511.2 L230.7 509.9 L231.7 509.7 L232.7 510.4 L233.7 512 L234.7 514.4 L235.7 517.6 L236.7 521.5 L237.7 526.2 L238.7 531.5 L239.7 537.3 L240.7 543.5 L241.7 550.1 L242.7 556.9 L243.7 563.9 L244.7 571.1 L245.7 578.4 L246.7 585.7 L247.7 592.9 L248.7 600.1 L249.7 607 L250.7 613.7 L251.7 620 L252.7 625.8 L253.7 631.3 L254.7 636.3 L255.7 640.9 L256.7 645.1 L257.7 649 L258.7 652.6 L259.7 656 L260.7 659 L261.7 661.8 L262.7 664.4 L263.7 666.7 L264.7 668.9 L265.7 670.8 L266.7 672.5 L267.7 674.1 L268.7 675.4 L269.7 676.6 L270.7 677.7 L271.7 678.7 L272.7 679.6 L273.7 680.4 L274.7 681.3 L275.7 682.1 L276.7 682.8 L277.7 683.5 L278.7 684.1 L279.7 684.7 L280.7 685.3 L281.7 685.8 L282.7 686.3 L283.7 686.7 L284.7 687.1 L285.7 687.5 L286.7 687.9 L287.7 688.2 L288.7 688.5 L289.7 688.8 L290.7 689 L291.7 689.2 L292.7 689.4 L293.7 689.5 L294.7 689.7 L295.7 689.8 L296.7 689.9 L297.7 690.1 L298.7 690.2 L299.7 690.3 L300.7 690.4 L301.7 690.5 L302.7 690.6 L303.7 690.7 L304.7 690.8 L305.7 690.9 L306.7 691 L307.7 691.1 L308.7 691.1 L309.7 691.2 L310.7 691.3 L311.7 691.4 L312.7 691.5 L313.7 691.5 L314.7 691.6 L315.7 691.7 L316.7 691.7 L317.7 691.8 L318.7 691.8 L319.7 691.9 L320.7 691.9 L321.7 692 L322.7 692.1 L323.7 692.1 L324.7 692.2 L325.7 692.2 L326.7 692.2 L327.7 692.3 L328.7 692.3 L329.7 692.3 L330.7 692.3 L331.7 692.3 L332.7 692.2 L333.7 692.2 L334.7 692.1 L335.7 692.1 L336.7 692 L337.7 692 L338.7 691.9 L339.7 691.8 L340.7 691.8 L341.7 691.7 L342.7 691.6 L343.7 691.6 L344.7 691.5 L345.7 691.4 L346.7 691.4 L347.7 691.3 L348.7 691.2 L349.7 691.2 L350.7 691.1 L351.7 691 L352.7 690.9 L353.7 690.9 L354.7 690.8 L355.7 690.7 L356.7 690.6 L357.7 690.5 L358.7 690.5 L359.7 690.4 L360.7 690.3 L361.7 690.2 L362.7 690.1 L363.7 690.1 L364.7 690 L365.7 689.9 L366.7 689.8 L367.7 689.7 L368.7 689.6 L369.7 689.5 L370.7 689.4 L371.7 689.3 L372.7 689.3 L373.7 689.2 L374.7 689.1 L375.7 689 L376.7 688.9 L377.7 688.9 L378.7 688.9 L379.7 688.9 L380.7 688.8 L381.7 688.8 L382.7 688.8 L383.7 688.7 L384.7 688.7 L385.7 688.7 L386.7 688.6 L387.7 688.6 L388.7 688.5 L389.7 688.5 L390.7 688.4 L391.7 688.3 L392.7 688.3 L393.7 688.2 L394.7 688.1 L395.7 688 L396.7 687.8 L397.7 687.7 L398.7 687.6 L399.7 687.4 L400.7 687.2 L401.7 687 L402.7 686.8 L403.7 686.6 L404.7 686.3 L405.7 686 L406.7 685.6 L407.7 685.2 L408.7 684.7 L409.7 684.1 L410.7 683.4 L411.7 682.7 L412.7 681.9 L413.7 681 L414.7 680.2 L415.7 679.3 L416.7 678.3 L417.7 677.4 L418.7 676.5 L419.7 675.5 L420.7 674.3 L421.7 673.1 L422.7 671.6 L423.7 670 L424.7 668.2 L425.7 666.2 L426.7 664.1 L427.7 661.8 L428.7 659.4 L429.7 656.7 L430.7 653.6 L431.7 650.1 L432.7 646.1 L433.7 641.6 L434.7 636.7 L435.7 631.7 L436.7 626.6 L437.7 621.5 L438.7 616.6 L439.7 612 L440.7 607.7 L441.7 603.9 L442.7 600.5 L443.7 597.5 L444.7 595.1 L445.7 593.1 L446.7 591.6 L447.7 590.5 L448.7 589.9 L449.7 589.6 L450.7 589.6 L451.7 590 L452.7 590.8 L453.7 592.1 L454.7 593.8 L455.7 596.1 L456.7 598.7 L457.7 601.6 L458.7 604.8 L459.7 608.1 L460.7 611.7 L461.7 615.3 L462.7 619 L463.7 622.8 L464.7 626.6 L465.7 630.3 L466.7 634.1 L467.7 637.8 L468.7 641.4 L469.7 645 L470.7 648.4 L471.7 651.6 L472.7 654.6 L473.7 657.5 L474.7 660.1 L475.7 662.5 L476.7 664.8 L477.7 666.8 L478.7 668.7 L479.7 670.4 L480.7 671.9 L481.7 673.3 L482.7 674.5 L483.7 675.6 L484.7 676.5 L485.7 677.4 L486.7 678.2 L487.7 678.9 L488.7 679.5 L489.7 680.1 L490.7 680.7 L491.7 681.1 L492.7 681.5 L493.7 681.9 L494.7 682.2 L495.7 682.5 L496.7 682.7 L497.7 682.9 L498.7 683.1 L499.7 683.3 L500.7 683.5 L501.7 683.6 L502.7 683.8 L503.7 684 L504.7 684.1 L505.7 684.3 L506.7 684.4 L507.7 684.5 L508.7 684.7 L509.7 684.8 L510.7 684.9 L511.7 685 L512.7 685.1 L513.7 685.2 L514.7 685.3 L515.7 685.3 L516.7 685.3 L517.7 685.2 L518.7 685.2 L519.7 685.1 L520.7 685.1 L521.7 685 L522.7 685 L523.7 684.9 L524.7 684.9 L525.7 684.8 L526.7 684.8 L527.7 684.7 L528.7 684.7 L529.7 684.6 L530.7 684.6 L531.7 684.5 L532.7 684.5 L533.7 684.4 L534.7 684.4 L535.7 684.3 L536.7 684.3 L537.7 684.2 L538.7 684.2 L539.7 684.1 L540.7 684.1 L541.7 684 L542.7 684 L543.7 683.9 L544.7 683.9 L545.7 683.8 L546.7 683.8 L547.7 683.7 L548.7 683.7 L549.7 683.6 L550.7 683.6 L551.7 683.5 L552.7 683.5 L553.7 683.4 L554.7 683.4 L555.7 683.3 L556.7 683.3 L557.7 683.3 L558.7 683.2 L559.7 683.2 L560.7 683.1 L561.7 683 L562.7 683 L563.7 682.9 L564.7 682.9 L565.7 682.8 L566.7 682.7 L567.7 682.7 L568.7 682.6 L569.7 682.6 L570.7 682.5 L571.7 682.5 L572.7 682.4 L573.7 682.3 L574.7 682.3 L575.7 682.2 L576.7 682.2 L577.7 682.1 L578.7 682 L579.7 682 L580.7 681.9 L581.7 681.9 L582.7 681.8 L583.7 681.7 L584.7 681.7 L585.7 681.6 L586.7 681.6 L587.7 681.5 L588.7 681.4 L589.7 681.4 L590.7 681.3 L591.7 681.3 L592.7 681.2 L593.7 681.2 L594.7 681.1 L595.7 681 L596.7 681 L597.7 680.9 L598.7 680.9 L599.7 680.8 L600.7 680.7 L601.7 680.7 L602.7 680.6 L603.7 680.6 L604.7 680.5 L605.7 680.5 L606.7 680.4 L607.7 680.3 L608.7 680.3 L609.7 680.2 L610.7 680.2 L611.7 680.1 L612.7 680 L613.7 680 L614.7 679.9 L615.7 679.9 L616.7 679.8 L617.7 679.8 L618.5 679.7" fill="none" stroke="#167a7a" stroke-width="3.7" stroke-linejoin="round" stroke-linecap="round"/>
<path d="M41.7 725.7 L42.7 725.7 L43.7 725.7 L44.7 725.7 L45.7 725.7 L46.7 725.7 L47.7 725.7 L48.7 725.7 L49.7 725.6 L50.7 725.6 L51.7 725.6 L52.7 725.6 L53.7 725.6 L54.7 725.6 L55.7 725.6 L56.7 725.6 L57.7 725.6 L58.7 725.6 L59.7 725.6 L60.7 725.6 L61.7 725.6 L62.7 725.6 L63.7 725.6 L64.7 725.6 L65.7 725.5 L66.7 725.5 L67.7 725.5 L68.7 725.5 L69.7 725.5 L70.7 725.5 L71.7 725.5 L72.7 725.5 L73.7 725.5 L74.7 725.5 L75.7 725.5 L76.7 725.5 L77.7 725.5 L78.7 725.5 L79.7 725.5 L80.7 725.4 L81.7 725.4 L82.7 725.4 L83.7 725.4 L84.7 725.4 L85.7 725.4 L86.7 725.4 L87.7 725.4 L88.7 725.4 L89.7 725.4 L90.7 725.4 L91.7 725.4 L92.7 725.4 L93.7 725.4 L94.7 725.3 L95.7 725.3 L96.7 725.3 L97.7 725.3 L98.7 725.3 L99.7 725.3 L100.7 725.3 L101.7 725.3 L102.7 725.3 L103.7 725.3 L104.7 725.3 L105.7 725.3 L106.7 725.3 L107.7 725.2 L108.7 725.2 L109.7 725.2 L110.7 725.2 L111.7 725.2 L112.7 725.2 L113.7 725.2 L114.7 725.2 L115.7 725.2 L116.7 725.2 L117.7 725.2 L118.7 725.2 L119.7 725.2 L120.7 725.1 L121.7 725.1 L122.7 725.1 L123.7 725.1 L124.7 725.1 L125.7 725.1 L126.7 725.1 L127.7 725.1 L128.7 725.1 L129.7 725.1 L130.7 725.1 L131.7 725 L132.7 725 L133.7 725 L134.7 725 L135.7 725 L136.7 725 L137.7 725 L138.7 725 L139.7 724.9 L140.7 724.9 L141.7 724.9 L142.7 724.9 L143.7 724.8 L144.7 724.8 L145.7 724.8 L146.7 724.8 L147.7 724.7 L148.7 724.7 L149.7 724.7 L150.7 724.6 L151.7 724.6 L152.7 724.6 L153.7 724.5 L154.7 724.5 L155.7 724.4 L156.7 724.4 L157.7 724.3 L158.7 724.2 L159.7 724.2 L160.7 724.1 L161.7 724 L162.7 723.9 L163.7 723.8 L164.7 723.7 L165.7 723.6 L166.7 723.4 L167.7 723.3 L168.7 723.2 L169.7 723 L170.7 722.8 L171.7 722.7 L172.7 722.5 L173.7 722.3 L174.7 722.1 L175.7 721.9 L176.7 721.7 L177.7 721.5 L178.7 721.3 L179.7 721.1 L180.7 720.9 L181.7 720.7 L182.7 720.5 L183.7 720.3 L184.7 720.1 L185.7 720 L186.7 719.8 L187.7 719.6 L188.7 719.5 L189.7 719.4 L190.7 719.3 L191.7 719.2 L192.7 719.1 L193.7 719 L194.7 719 L195.7 719.1 L196.7 719.2 L197.7 719.3 L198.7 719.4 L199.7 719.6 L200.7 719.7 L201.7 719.9 L202.7 720 L203.7 720.1 L204.7 720.1 L205.7 720.1 L206.7 720.1 L207.7 720 L208.7 719.8 L209.7 719.6 L210.7 719.3 L211.7 718.9 L212.7 718.5 L213.7 718.1 L214.7 717.6 L215.7 717 L216.7 716.4 L217.7 715.8 L218.7 715.1 L219.7 714.4 L220.7 713.7 L221.7 713.1 L222.7 712.5 L223.7 711.9 L224.7 711.4 L225.7 711.1 L226.7 710.9 L227.7 710.8 L228.7 710.8 L229.7 710.9 L230.7 711 L231.7 711.2 L232.7 711.4 L233.7 711.7 L234.7 711.9 L235.7 712.2 L236.7 712.6 L237.7 712.9 L238.7 713.3 L239.7 713.6 L240.7 714 L241.7 714.4 L242.7 714.8 L243.7 715.2 L244.7 715.5 L245.7 715.9 L246.7 716.3 L247.7 716.6 L248.7 717 L249.7 717.3 L250.7 717.7 L251.7 718 L252.7 718.3 L253.7 718.6 L254.7 718.8 L255.7 719.1 L256.7 719.4 L257.7 719.6 L258.7 719.8 L259.7 720.1 L260.7 720.3 L261.7 720.5 L262.7 720.7 L263.7 720.8 L264.7 721 L265.7 721.2 L266.7 721.3 L267.7 721.5 L268.7 721.6 L269.7 721.7 L270.7 721.9 L271.7 722 L272.7 722.1 L273.7 722.2 L274.7 722.3 L275.7 722.4 L276.7 722.5 L277.7 722.5 L278.7 722.6 L279.7 722.7 L280.7 722.8 L281.7 722.8 L282.7 722.9 L283.7 722.9 L284.7 723 L285.7 723 L286.7 723.1 L287.7 723.1 L288.7 723.2 L289.7 723.2 L290.7 723.2 L291.7 723.3 L292.7 723.3 L293.7 723.3 L294.7 723.4 L295.7 723.4 L296.7 723.4 L297.7 723.5 L298.7 723.5 L299.7 723.5 L300.7 723.5 L301.7 723.5 L302.7 723.6 L303.7 723.6 L304.7 723.6 L305.7 723.6 L306.7 723.6 L307.7 723.6 L308.7 723.7 L309.7 723.7 L310.7 723.7 L311.7 723.7 L312.7 723.7 L313.7 723.7 L314.7 723.7 L315.7 723.7 L316.7 723.7 L317.7 723.7 L318.7 723.8 L319.7 723.8 L320.7 723.8 L321.7 723.8 L322.7 723.8 L323.7 723.8 L324.7 723.8 L325.7 723.8 L326.7 723.8 L327.7 723.8 L328.7 723.8 L329.7 723.8 L330.7 723.8 L331.7 723.8 L332.7 723.8 L333.7 723.8 L334.7 723.8 L335.7 723.8 L336.7 723.8 L337.7 723.8 L338.7 723.8 L339.7 723.8 L340.7 723.7 L341.7 723.7 L342.7 723.7 L343.7 723.7 L344.7 723.7 L345.7 723.7 L346.7 723.7 L347.7 723.7 L348.7 723.7 L349.7 723.7 L350.7 723.7 L351.7 723.6 L352.7 723.6 L353.7 723.6 L354.7 723.6 L355.7 723.6 L356.7 723.6 L357.7 723.6 L358.7 723.6 L359.7 723.5 L360.7 723.5 L361.7 723.5 L362.7 723.5 L363.7 723.5 L364.7 723.5 L365.7 723.4 L366.7 723.4 L367.7 723.4 L368.7 723.4 L369.7 723.4 L370.7 723.3 L371.7 723.3 L372.7 723.3 L373.7 723.3 L374.7 723.2 L375.7 723.2 L376.7 723.2 L377.7 723.1 L378.7 723.1 L379.7 723.1 L380.7 723 L381.7 723 L382.7 722.9 L383.7 722.9 L384.7 722.8 L385.7 722.8 L386.7 722.7 L387.7 722.7 L388.7 722.6 L389.7 722.5 L390.7 722.5 L391.7 722.4 L392.7 722.3 L393.7 722.2 L394.7 722.1 L395.7 722 L396.7 721.9 L397.7 721.8 L398.7 721.6 L399.7 721.5 L400.7 721.3 L401.7 721.2 L402.7 721 L403.7 720.8 L404.7 720.6 L405.7 720.4 L406.7 720.2 L407.7 720 L408.7 719.8 L409.7 719.6 L410.7 719.4 L411.7 719.2 L412.7 719.1 L413.7 719 L414.7 719 L415.7 719 L416.7 719.1 L417.7 719.2 L418.7 719.4 L419.7 719.7 L420.7 720 L421.7 720.2 L422.7 720.5 L423.7 720.8 L424.7 721 L425.7 721.2 L426.7 721.3 L427.7 721.5 L428.7 721.5 L429.7 721.6 L430.7 721.6 L431.7 721.6 L432.7 721.5 L433.7 721.4 L434.7 721.3 L435.7 721.2 L436.7 721 L437.7 720.9 L438.7 720.7 L439.7 720.5 L440.7 720.3 L441.7 720.2 L442.7 720 L443.7 719.8 L444.7 719.6 L445.7 719.4 L446.7 719.2 L447.7 719.1 L448.7 719 L449.7 718.8 L450.7 718.7 L451.7 718.7 L452.7 718.6 L453.7 718.6 L454.7 718.7 L455.7 718.9 L456.7 719.1 L457.7 719.4 L458.7 719.7 L459.7 720.1 L460.7 720.4 L461.7 720.8 L462.7 721.1 L463.7 721.4 L464.7 721.7 L465.7 722 L466.7 722.2 L467.7 722.4 L468.7 722.5 L469.7 722.6 L470.7 722.7 L471.7 722.8 L472.7 722.8 L473.7 722.8 L474.7 722.9 L475.7 722.9 L476.7 722.9 L477.7 722.9 L478.7 722.9 L479.7 722.9 L480.7 722.9 L481.7 722.8 L482.7 722.8 L483.7 722.8 L484.7 722.8 L485.7 722.8 L486.7 722.8 L487.7 722.8 L488.7 722.8 L489.7 722.8 L490.7 722.7 L491.7 722.7 L492.7 722.7 L493.7 722.7 L494.7 722.7 L495.7 722.7 L496.7 722.7 L497.7 722.7 L498.7 722.6 L499.7 722.6 L500.7 722.6 L501.7 722.6 L502.7 722.6 L503.7 722.6 L504.7 722.6 L505.7 722.6 L506.7 722.5 L507.7 722.5 L508.7 722.5 L509.7 722.5 L510.7 722.5 L511.7 722.5 L512.7 722.5 L513.7 722.5 L514.7 722.5 L515.7 722.4 L516.7 722.4 L517.7 722.4 L518.7 722.4 L519.7 722.4 L520.7 722.4 L521.7 722.4 L522.7 722.4 L523.7 722.4 L524.7 722.3 L525.7 722.3 L526.7 722.3 L527.7 722.3 L528.7 722.3 L529.7 722.3 L530.7 722.3 L531.7 722.3 L532.7 722.3 L533.7 722.2 L534.7 722.2 L535.7 722.2 L536.7 722.2 L537.7 722.2 L538.7 722.2 L539.7 722.2 L540.7 722.2 L541.7 722.2 L542.7 722.1 L543.7 722.1 L544.7 722.1 L545.7 722.1 L546.7 722.1 L547.7 722.1 L548.7 722.1 L549.7 722.1 L550.7 722.1 L551.7 722 L552.7 722 L553.7 722 L554.7 722 L555.7 722 L556.7 722 L557.7 722 L558.7 722 L559.7 722 L560.7 721.9 L561.7 721.9 L562.7 721.9 L563.7 721.9 L564.7 721.9 L565.7 721.9 L566.7 721.9 L567.7 721.9 L568.7 721.9 L569.7 721.8 L570.7 721.8 L571.7 721.8 L572.7 721.8 L573.7 721.8 L574.7 721.8 L575.7 721.8 L576.7 721.8 L577.7 721.8 L578.7 721.7 L579.7 721.7 L580.7 721.7 L581.7 721.7 L582.7 721.7 L583.7 721.7 L584.7 721.7 L585.7 721.7 L586.7 721.7 L587.7 721.6 L588.7 721.6 L589.7 721.6 L590.7 721.6 L591.7 721.6 L592.7 721.6 L593.7 721.6 L594.7 721.6 L595.7 721.6 L596.7 721.5 L597.7 721.5 L598.7 721.5 L599.7 721.5 L600.7 721.5 L601.7 721.5 L602.7 721.5 L603.7 721.5 L604.7 721.5 L605.7 721.4 L606.7 721.4 L607.7 721.4 L608.7 721.4 L609.7 721.4 L610.7 721.4 L611.7 721.4 L612.7 721.4 L613.7 721.4 L614.7 721.3 L615.7 721.3 L616.7 721.3 L617.7 721.3 L618.7 721.3 L619 721.3" fill="none" stroke="#1212d6" stroke-width="3.7" stroke-linejoin="round" stroke-linecap="round"/>
<path d="M41.7 875.1 L42.7 875.1 L43.7 875.1 L44.7 875.1 L45.7 875.1 L46.7 875.1 L47.7 875.1 L48.7 875.1 L49.7 875.1 L50.7 875.2 L51.7 875.2 L52.7 875.2 L53.7 875.2 L54.7 875.2 L55.7 875.2 L56.7 875.2 L57.7 875.2 L58.7 875.2 L59.7 875.2 L60.7 875.2 L61.7 875.2 L62.7 875.2 L63.7 875.2 L64.7 875.2 L65.7 875.2 L66.7 875.2 L67.7 875.2 L68.7 875.2 L69.7 875.2 L70.7 875.2 L71.7 875.2 L72.7 875.2 L73.7 875.2 L74.7 875.2 L75.7 875.2 L76.7 875.2 L77.7 875.2 L78.7 875.2 L79.7 875.3 L80.7 875.3 L81.7 875.3 L82.7 875.3 L83.7 875.3 L84.7 875.3 L85.7 875.3 L86.7 875.3 L87.7 875.2 L88.7 875.2 L89.7 875.2 L90.7 875.2 L91.7 875.2 L92.7 875.2 L93.7 875.2 L94.7 875.2 L95.7 875.2 L96.7 875.2 L97.7 875.2 L98.7 875.2 L99.7 875.2 L100.7 875.2 L101.7 875.2 L102.7 875.2 L103.7 875.2 L104.7 875.2 L105.7 875.2 L106.7 875.2 L107.7 875.2 L108.7 875.1 L109.7 875.1 L110.7 875.1 L111.7 875.1 L112.7 875.1 L113.7 875.1 L114.7 875 L115.7 875 L116.7 875 L117.7 874.9 L118.7 874.9 L119.7 874.9 L120.7 874.8 L121.7 874.8 L122.7 874.8 L123.7 874.7 L124.7 874.7 L125.7 874.7 L126.7 874.6 L127.7 874.6 L128.7 874.5 L129.7 874.5 L130.7 874.4 L131.7 874.4 L132.7 874.3 L133.7 874.3 L134.7 874.2 L135.7 874.2 L136.7 874.1 L137.7 874.1 L138.7 874 L139.7 873.9 L140.7 873.9 L141.7 873.8 L142.7 873.7 L143.7 873.6 L144.7 873.6 L145.7 873.5 L146.7 873.4 L147.7 873.2 L148.7 873.1 L149.7 872.9 L150.7 872.7 L151.7 872.5 L152.7 872.3 L153.7 872 L154.7 871.8 L155.7 871.5 L156.7 871.2 L157.7 870.9 L158.7 870.5 L159.7 870.2 L160.7 869.8 L161.7 869.3 L162.7 868.8 L163.7 868.3 L164.7 867.8 L165.7 867.2 L166.7 866.6 L167.7 865.9 L168.7 865.2 L169.7 864.3 L170.7 863.4 L171.7 862.3 L172.7 861.1 L173.7 859.8 L174.7 858.4 L175.7 856.8 L176.7 855 L177.7 853.1 L178.7 851 L179.7 848.8 L180.7 846.4 L181.7 844 L182.7 841.6 L183.7 839.3 L184.7 837 L185.7 834.9 L186.7 833 L187.7 831.3 L188.7 829.9 L189.7 828.7 L190.7 827.7 L191.7 827.2 L192.7 827.4 L193.7 828.1 L194.7 829.3 L195.7 830.8 L196.7 832.3 L197.7 833.8 L198.7 835 L199.7 836 L200.7 836.6 L201.7 836.7 L202.7 836.4 L203.7 835.6 L204.7 834.3 L205.7 832.5 L206.7 830.2 L207.7 827.6 L208.7 824.5 L209.7 821.1 L210.7 817.4 L211.7 813.3 L212.7 809 L213.7 804.5 L214.7 799.8 L215.7 795 L216.7 790.1 L217.7 785.1 L218.7 780.1 L219.7 775.2 L220.7 770.4 L221.7 765.8 L222.7 761.4 L223.7 757.2 L224.7 753.4 L225.7 750 L226.7 747 L227.7 744.6 L228.7 742.7 L229.7 741.4 L230.7 740.7 L231.7 740.6 L232.7 741.1 L233.7 742 L234.7 743.4 L235.7 745.2 L236.7 747.5 L237.7 750 L238.7 752.8 L239.7 755.9 L240.7 759.3 L241.7 762.8 L242.7 766.5 L243.7 770.3 L244.7 774.4 L245.7 778.6 L246.7 782.9 L247.7 787.4 L248.7 791.9 L249.7 796.5 L250.7 801 L251.7 805.5 L252.7 809.8 L253.7 813.9 L254.7 817.9 L255.7 821.6 L256.7 825.1 L257.7 828.5 L258.7 831.6 L259.7 834.6 L260.7 837.4 L261.7 840 L262.7 842.4 L263.7 844.7 L264.7 846.8 L265.7 848.7 L266.7 850.4 L267.7 852 L268.7 853.4 L269.7 854.7 L270.7 855.9 L271.7 857 L272.7 857.9 L273.7 858.8 L274.7 859.5 L275.7 860.2 L276.7 860.8 L277.7 861.4 L278.7 862 L279.7 862.4 L280.7 862.9 L281.7 863.3 L282.7 863.7 L283.7 864 L284.7 864.3 L285.7 864.6 L286.7 864.9 L287.7 865.1 L288.7 865.3 L289.7 865.5 L290.7 865.7 L291.7 865.8 L292.7 866 L293.7 866.1 L294.7 866.2 L295.7 866.4 L296.7 866.5 L297.7 866.6 L298.7 866.7 L299.7 866.8 L300.7 866.8 L301.7 866.9 L302.7 867 L303.7 867.1 L304.7 867.2 L305.7 867.2 L306.7 867.3 L307.7 867.4 L308.7 867.4 L309.7 867.5 L310.7 867.5 L311.7 867.6 L312.7 867.7 L313.7 867.7 L314.7 867.8 L315.7 867.8 L316.7 867.9 L317.7 867.9 L318.7 868 L319.7 868 L320.7 868 L321.7 868.1 L322.7 868.1 L323.7 868.2 L324.7 868.2 L325.7 868.2 L326.7 868.3 L327.7 868.3 L328.7 868.3 L329.7 868.4 L330.7 868.4 L331.7 868.4 L332.7 868.4 L333.7 868.4 L334.7 868.3 L335.7 868.3 L336.7 868.3 L337.7 868.3 L338.7 868.3 L339.7 868.3 L340.7 868.2 L341.7 868.2 L342.7 868.2 L343.7 868.2 L344.7 868.1 L345.7 868.1 L346.7 868.1 L347.7 868.1 L348.7 868 L349.7 868 L350.7 868 L351.7 867.9 L352.7 867.9 L353.7 867.9 L354.7 867.8 L355.7 867.8 L356.7 867.7 L357.7 867.7 L358.7 867.7 L359.7 867.6 L360.7 867.6 L361.7 867.5 L362.7 867.4 L363.7 867.4 L364.7 867.3 L365.7 867.2 L366.7 867.1 L367.7 867 L368.7 866.9 L369.7 866.8 L370.7 866.7 L371.7 866.5 L372.7 866.3 L373.7 866.2 L374.7 866 L375.7 865.7 L376.7 865.5 L377.7 865.2 L378.7 864.9 L379.7 864.6 L380.7 864.2 L381.7 863.7 L382.7 863.2 L383.7 862.7 L384.7 862.1 L385.7 861.5 L386.7 860.8 L387.7 860 L388.7 859.2 L389.7 858.3 L390.7 857.3 L391.7 856.3 L392.7 855.2 L393.7 853.9 L394.7 852.7 L395.7 851.3 L396.7 849.9 L397.7 848.4 L398.7 846.9 L399.7 845.3 L400.7 843.7 L401.7 842.2 L402.7 840.8 L403.7 839.4 L404.7 838.1 L405.7 836.9 L406.7 835.9 L407.7 835.1 L408.7 834.4 L409.7 834.3 L410.7 834.9 L411.7 836 L412.7 837.3 L413.7 838.8 L414.7 840.2 L415.7 841.5 L416.7 842.4 L417.7 843.1 L418.7 843.3 L419.7 843.2 L420.7 842.7 L421.7 841.9 L422.7 840.7 L423.7 839.2 L424.7 837.4 L425.7 835.4 L426.7 833 L427.7 830.4 L428.7 827.7 L429.7 824.9 L430.7 822 L431.7 819.2 L432.7 816.5 L433.7 814 L434.7 811.5 L435.7 809.2 L436.7 806.9 L437.7 804.8 L438.7 802.7 L439.7 800.8 L440.7 799 L441.7 797.4 L442.7 796 L443.7 794.8 L444.7 793.9 L445.7 793.3 L446.7 793 L447.7 792.9 L448.7 793.2 L449.7 793.7 L450.7 794.6 L451.7 795.7 L452.7 797.1 L453.7 798.8 L454.7 800.8 L455.7 803 L456.7 805.3 L457.7 807.8 L458.7 810.4 L459.7 813.1 L460.7 815.8 L461.7 818.6 L462.7 821.4 L463.7 824.1 L464.7 826.8 L465.7 829.4 L466.7 831.8 L467.7 834.2 L468.7 836.4 L469.7 838.5 L470.7 840.5 L471.7 842.3 L472.7 844 L473.7 845.6 L474.7 847.1 L475.7 848.4 L476.7 849.7 L477.7 850.8 L478.7 851.8 L479.7 852.7 L480.7 853.4 L481.7 854.1 L482.7 854.7 L483.7 855.3 L484.7 855.7 L485.7 856.1 L486.7 856.5 L487.7 856.8 L488.7 857.1 L489.7 857.3 L490.7 857.6 L491.7 857.8 L492.7 858 L493.7 858.1 L494.7 858.2 L495.7 858.4 L496.7 858.5 L497.7 858.6 L498.7 858.7 L499.7 858.7 L500.7 858.8 L501.7 858.9 L502.7 858.9 L503.7 859 L504.7 859.1 L505.7 859.1 L506.7 859.2 L507.7 859.2 L508.7 859.3 L509.7 859.3 L510.7 859.3 L511.7 859.3 L512.7 859.3 L513.7 859.3 L514.7 859.3 L515.7 859.2 L516.7 859.2 L517.7 859.1 L518.7 859.1 L519.7 859.1 L520.7 859 L521.7 859 L522.7 859 L523.7 858.9 L524.7 858.9 L525.7 858.9 L526.7 858.8 L527.7 858.8 L528.7 858.8 L529.7 858.7 L530.7 858.7 L531.7 858.7 L532.7 858.6 L533.7 858.6 L534.7 858.6 L535.7 858.5 L536.7 858.5 L537.7 858.5 L538.7 858.4 L539.7 858.4 L540.7 858.4 L541.7 858.4 L542.7 858.3 L543.7 858.3 L544.7 858.3 L545.7 858.2 L546.7 858.2 L547.7 858.2 L548.7 858.1 L549.7 858.1 L550.7 858.1 L551.7 858.1 L552.7 858 L553.7 858 L554.7 858 L555.7 857.9 L556.7 857.9 L557.7 857.9 L558.7 857.8 L559.7 857.8 L560.7 857.8 L561.7 857.8 L562.7 857.7 L563.7 857.7 L564.7 857.7 L565.7 857.6 L566.7 857.6 L567.7 857.6 L568.7 857.6 L569.7 857.5 L570.7 857.5 L571.7 857.5 L572.7 857.4 L573.7 857.4 L574.7 857.4 L575.7 857.3 L576.7 857.3 L577.7 857.3 L578.7 857.2 L579.7 857.2 L580.7 857.1 L581.7 857.1 L582.7 857.1 L583.7 857 L584.7 857 L585.7 857 L586.7 856.9 L587.7 856.9 L588.7 856.9 L589.7 856.8 L590.7 856.8 L591.7 856.8 L592.7 856.7 L593.7 856.7 L594.7 856.7 L595.7 856.6 L596.7 856.6 L597.7 856.5 L598.7 856.5 L599.7 856.5 L600.7 856.4 L601.7 856.4 L602.7 856.4 L603.7 856.3 L604.7 856.3 L605.7 856.3 L606.7 856.2 L607.7 856.2 L608.7 856.2 L609.7 856.1 L610.7 856.1 L611.7 856.1 L612.7 856 L613.7 856 L614.7 856 L615.7 855.9 L616.7 855.9 L617.7 855.9 L618.7 855.8 L619.2 855.8" fill="none" stroke="#dc1a16" stroke-width="3.7" stroke-linejoin="round" stroke-linecap="round"/>
<path d="M41.7 917.1 L42.7 917.1 L43.7 917.1 L44.7 917.1 L45.7 917 L46.7 917 L47.7 917 L48.7 917 L49.7 917 L50.7 917 L51.7 917 L52.7 916.9 L53.7 916.9 L54.7 916.9 L55.7 916.9 L56.7 916.9 L57.7 916.9 L58.7 916.9 L59.7 916.9 L60.7 916.8 L61.7 916.8 L62.7 916.8 L63.7 916.8 L64.7 916.8 L65.7 916.8 L66.7 916.8 L67.7 916.7 L68.7 916.7 L69.7 916.7 L70.7 916.7 L71.7 916.7 L72.7 916.7 L73.7 916.7 L74.7 916.6 L75.7 916.6 L76.7 916.6 L77.7 916.6 L78.7 916.6 L79.7 916.6 L80.7 916.6 L81.7 916.5 L82.7 916.5 L83.7 916.5 L84.7 916.5 L85.7 916.5 L86.7 916.5 L87.7 916.5 L88.7 916.4 L89.7 916.4 L90.7 916.4 L91.7 916.4 L92.7 916.4 L93.7 916.4 L94.7 916.4 L95.7 916.3 L96.7 916.3 L97.7 916.3 L98.7 916.3 L99.7 916.3 L100.7 916.3 L101.7 916.3 L102.7 916.2 L103.7 916.2 L104.7 916.2 L105.7 916.2 L106.7 916.2 L107.7 916.2 L108.7 916.2 L109.7 916.1 L110.7 916.1 L111.7 916.1 L112.7 916.1 L113.7 916.1 L114.7 916.1 L115.7 916 L116.7 916 L117.7 916 L118.7 916 L119.7 916 L120.7 916 L121.7 916 L122.7 915.9 L123.7 915.9 L124.7 915.9 L125.7 915.9 L126.7 915.9 L127.7 915.9 L128.7 915.8 L129.7 915.8 L130.7 915.8 L131.7 915.8 L132.7 915.8 L133.7 915.8 L134.7 915.7 L135.7 915.7 L136.7 915.7 L137.7 915.7 L138.7 915.7 L139.7 915.6 L140.7 915.6 L141.7 915.6 L142.7 915.6 L143.7 915.6 L144.7 915.5 L145.7 915.5 L146.7 915.5 L147.7 915.4 L148.7 915.4 L149.7 915.3 L150.7 915.2 L151.7 915.1 L152.7 915 L153.7 914.9 L154.7 914.7 L155.7 914.6 L156.7 914.4 L157.7 914.2 L158.7 914 L159.7 913.8 L160.7 913.5 L161.7 913.2 L162.7 912.9 L163.7 912.5 L164.7 912.1 L165.7 911.7 L166.7 911.2 L167.7 910.7 L168.7 910.2 L169.7 909.6 L170.7 909 L171.7 908.4 L172.7 907.7 L173.7 907 L174.7 906.2 L175.7 905.4 L176.7 904.6 L177.7 903.8 L178.7 903 L179.7 902.1 L180.7 901.3 L181.7 900.4 L182.7 899.6 L183.7 898.8 L184.7 898 L185.7 897.4 L186.7 896.7 L187.7 896.2 L188.7 895.7 L189.7 895.4 L190.7 895.1 L191.7 895 L192.7 895.2 L193.7 895.7 L194.7 896.5 L195.7 897.4 L196.7 898.5 L197.7 899.5 L198.7 900.6 L199.7 901.5 L200.7 902.4 L201.7 903 L202.7 903.4 L203.7 903.6 L204.7 903.6 L205.7 903.5 L206.7 903.1 L207.7 902.6 L208.7 901.9 L209.7 901.1 L210.7 900.2 L211.7 899.3 L212.7 898.3 L213.7 897.2 L214.7 896.2 L215.7 895.2 L216.7 894.2 L217.7 893.3 L218.7 892.5 L219.7 891.8 L220.7 891.1 L221.7 890.6 L222.7 890.3 L223.7 890.1 L224.7 890 L225.7 890.1 L226.7 890.2 L227.7 890.4 L228.7 890.7 L229.7 891 L230.7 891.4 L231.7 891.8 L232.7 892.3 L233.7 892.8 L234.7 893.4 L235.7 894 L236.7 894.6 L237.7 895.3 L238.7 896 L239.7 896.7 L240.7 897.4 L241.7 898.1 L242.7 898.8 L243.7 899.5 L244.7 900.3 L245.7 901 L246.7 901.7 L247.7 902.4 L248.7 903 L249.7 903.7 L250.7 904.3 L251.7 905 L252.7 905.6 L253.7 906.1 L254.7 906.7 L255.7 907.2 L256.7 907.7 L257.7 908.2 L258.7 908.6 L259.7 909.1 L260.7 909.5 L261.7 909.9 L262.7 910.2 L263.7 910.5 L264.7 910.8 L265.7 911.1 L266.7 911.4 L267.7 911.6 L268.7 911.8 L269.7 912 L270.7 912.2 L271.7 912.4 L272.7 912.6 L273.7 912.7 L274.7 912.8 L275.7 912.9 L276.7 913 L277.7 913.1 L278.7 913.2 L279.7 913.3 L280.7 913.4 L281.7 913.4 L282.7 913.5 L283.7 913.5 L284.7 913.6 L285.7 913.6 L286.7 913.6 L287.7 913.6 L288.7 913.7 L289.7 913.7 L290.7 913.7 L291.7 913.7 L292.7 913.7 L293.7 913.7 L294.7 913.7 L295.7 913.8 L296.7 913.8 L297.7 913.8 L298.7 913.8 L299.7 913.8 L300.7 913.9 L301.7 913.9 L302.7 913.9 L303.7 913.9 L304.7 913.9 L305.7 913.9 L306.7 913.9 L307.7 913.9 L308.7 914 L309.7 914 L310.7 914 L311.7 914 L312.7 914 L313.7 914 L314.7 914 L315.7 914 L316.7 914 L317.7 914 L318.7 914 L319.7 914 L320.7 914 L321.7 914 L322.7 914 L323.7 914 L324.7 914 L325.7 914 L326.7 914 L327.7 914 L328.7 914 L329.7 914 L330.7 914 L331.7 913.9 L332.7 913.9 L333.7 913.9 L334.7 913.9 L335.7 913.8 L336.7 913.8 L337.7 913.8 L338.7 913.7 L339.7 913.7 L340.7 913.7 L341.7 913.6 L342.7 913.6 L343.7 913.6 L344.7 913.5 L345.7 913.5 L346.7 913.5 L347.7 913.4 L348.7 913.4 L349.7 913.3 L350.7 913.3 L351.7 913.3 L352.7 913.2 L353.7 913.2 L354.7 913.1 L355.7 913.1 L356.7 913 L357.7 913 L358.7 912.9 L359.7 912.9 L360.7 912.8 L361.7 912.7 L362.7 912.7 L363.7 912.6 L364.7 912.5 L365.7 912.4 L366.7 912.3 L367.7 912.2 L368.7 912.1 L369.7 912 L370.7 911.8 L371.7 911.7 L372.7 911.5 L373.7 911.3 L374.7 911.1 L375.7 910.9 L376.7 910.7 L377.7 910.4 L378.7 910.2 L379.7 909.9 L380.7 909.6 L381.7 909.3 L382.7 908.9 L383.7 908.5 L384.7 908.1 L385.7 907.7 L386.7 907.2 L387.7 906.7 L388.7 906.2 L389.7 905.6 L390.7 905 L391.7 904.4 L392.7 903.8 L393.7 903.1 L394.7 902.5 L395.7 901.9 L396.7 901.3 L397.7 900.7 L398.7 900.2 L399.7 899.8 L400.7 899.4 L401.7 899.1 L402.7 898.9 L403.7 898.8 L404.7 898.7 L405.7 898.9 L406.7 899.1 L407.7 899.5 L408.7 900.1 L409.7 900.7 L410.7 901.3 L411.7 902 L412.7 902.6 L413.7 903.3 L414.7 903.9 L415.7 904.5 L416.7 905 L417.7 905.4 L418.7 905.8 L419.7 906.1 L420.7 906.4 L421.7 906.6 L422.7 906.8 L423.7 906.9 L424.7 907 L425.7 907 L426.7 906.9 L427.7 906.8 L428.7 906.7 L429.7 906.6 L430.7 906.5 L431.7 906.4 L432.7 906.3 L433.7 906.2 L434.7 906.1 L435.7 906 L436.7 905.9 L437.7 905.9 L438.7 905.9 L439.7 905.9 L440.7 905.9 L441.7 906 L442.7 906.2 L443.7 906.4 L444.7 906.6 L445.7 906.8 L446.7 907.1 L447.7 907.4 L448.7 907.8 L449.7 908.1 L450.7 908.4 L451.7 908.7 L452.7 909 L453.7 909.3 L454.7 909.6 L455.7 909.8 L456.7 910 L457.7 910.2 L458.7 910.4 L459.7 910.5 L460.7 910.6 L461.7 910.7 L462.7 910.8 L463.7 910.8 L464.7 910.9 L465.7 910.9 L466.7 910.9 L467.7 910.9 L468.7 910.9 L469.7 910.9 L470.7 910.9 L471.7 910.9 L472.7 910.9 L473.7 910.9 L474.7 910.9 L475.7 910.9 L476.7 910.8 L477.7 910.8 L478.7 910.8 L479.7 910.8 L480.7 910.8 L481.7 910.8 L482.7 910.7 L483.7 910.7 L484.7 910.7 L485.7 910.7 L486.7 910.7 L487.7 910.7 L488.7 910.7 L489.7 910.6 L490.7 910.6 L491.7 910.6 L492.7 910.6 L493.7 910.6 L494.7 910.6 L495.7 910.5 L496.7 910.5 L497.7 910.5 L498.7 910.5 L499.7 910.5 L500.7 910.5 L501.7 910.5 L502.7 910.4 L503.7 910.4 L504.7 910.4 L505.7 910.4 L506.7 910.4 L507.7 910.3 L508.7 910.3 L509.7 910.3 L510.7 910.2 L511.7 910.2 L512.7 910.1 L513.7 910.1 L514.7 910.1 L515.7 910 L516.7 910 L517.7 909.9 L518.7 909.9 L519.7 909.9 L520.7 909.8 L521.7 909.8 L522.7 909.8 L523.7 909.7 L524.7 909.7 L525.7 909.6 L526.7 909.6 L527.7 909.6 L528.7 909.5 L529.7 909.5 L530.7 909.4 L531.7 909.4 L532.7 909.4 L533.7 909.3 L534.7 909.3 L535.7 909.3 L536.7 909.2 L537.7 909.2 L538.7 909.1 L539.7 909.1 L540.7 909.1 L541.7 909 L542.7 909 L543.7 908.9 L544.7 908.9 L545.7 908.9 L546.7 908.8 L547.7 908.8 L548.7 908.7 L549.7 908.7 L550.7 908.7 L551.7 908.6 L552.7 908.6 L553.7 908.6 L554.7 908.5 L555.7 908.5 L556.7 908.5 L557.7 908.4 L558.7 908.4 L559.7 908.4 L560.7 908.4 L561.7 908.4 L562.7 908.4 L563.7 908.3 L564.7 908.3 L565.7 908.3 L566.7 908.3 L567.7 908.3 L568.7 908.3 L569.7 908.3 L570.7 908.3 L571.7 908.3 L572.7 908.3 L573.7 908.2 L574.7 908.2 L575.7 908.2 L576.7 908.2 L577.7 908.2 L578.7 908.2 L579.7 908.2 L580.7 908.2 L581.7 908.2 L582.7 908.2 L583.7 908.1 L584.7 908.1 L585.7 908.1 L586.7 908.1 L587.7 908.1 L588.7 908.1 L589.7 908.1 L590.7 908.1 L591.7 908.1 L592.7 908.1 L593.7 908 L594.7 908 L595.7 908 L596.7 908 L597.7 908 L598.7 908 L599.7 908 L600.7 908 L601.7 908 L602.7 908 L603.7 907.9 L604.7 907.9 L605.7 907.9 L606.7 907.9 L607.7 907.9 L608.7 907.9 L609.7 907.9 L610.7 907.9 L611.7 907.9 L612.7 907.9 L613.7 907.8 L614.7 907.8 L615.7 907.8 L616.7 907.8 L617.7 907.8 L618.4 907.8" fill="none" stroke="#080808" stroke-width="3.7" stroke-linejoin="round" stroke-linecap="round"/>
<rect x="41.7" y="497.8" width="578.1" height="425.3" fill="none" stroke="#000" stroke-width="3.4"/>
<line x1="98.6" y1="923.1" x2="98.6" y2="914.6" stroke="#000" stroke-width="2.6"/>
<text x="82.99" y="946.30" font-family='"Liberation Sans", sans-serif' font-weight="bold" font-size="18.7" fill="#000" stroke="#000" stroke-width="0.8">525</text>
<line x1="214.7" y1="923.1" x2="214.7" y2="914.6" stroke="#000" stroke-width="2.6"/>
<text x="199.23" y="946.30" font-family='"Liberation Sans", sans-serif' font-weight="bold" font-size="18.7" fill="#000" stroke="#000" stroke-width="0.8">530</text>
<line x1="330.8" y1="923.1" x2="330.8" y2="914.6" stroke="#000" stroke-width="2.6"/>
<text x="315.19" y="946.30" font-family='"Liberation Sans", sans-serif' font-weight="bold" font-size="18.7" fill="#000" stroke="#000" stroke-width="0.8">535</text>
<line x1="446.9" y1="923.1" x2="446.9" y2="914.6" stroke="#000" stroke-width="2.6"/>
<text x="431.43" y="946.30" font-family='"Liberation Sans", sans-serif' font-weight="bold" font-size="18.7" fill="#000" stroke="#000" stroke-width="0.8">540</text>
<line x1="563.0" y1="923.1" x2="563.0" y2="914.6" stroke="#000" stroke-width="2.6"/>
<text x="547.39" y="946.30" font-family='"Liberation Sans", sans-serif' font-weight="bold" font-size="18.7" fill="#000" stroke="#000" stroke-width="0.8">545</text>
<line x1="156.6" y1="923.1" x2="156.6" y2="918.1" stroke="#000" stroke-width="2.6"/>
<line x1="272.8" y1="923.1" x2="272.8" y2="918.1" stroke="#000" stroke-width="2.6"/>
<line x1="388.9" y1="923.1" x2="388.9" y2="918.1" stroke="#000" stroke-width="2.6"/>
<line x1="504.9" y1="923.1" x2="504.9" y2="918.1" stroke="#000" stroke-width="2.6"/>
<line x1="239.5" y1="513.1" x2="277.5" y2="513.1" stroke="#111" stroke-width="2.3"/>
<path d="M234.0 513.1 L243.5 510.0 L243.5 516.2 Z" fill="#111" stroke="#111" stroke-width="1" stroke-linejoin="round"/>
<line x1="196.5" y1="549.4" x2="277.5" y2="549.4" stroke="#111" stroke-width="2.3"/>
<path d="M191.0 549.4 L200.5 546.3 L200.5 552.5 Z" fill="#111" stroke="#111" stroke-width="1" stroke-linejoin="round"/>
<line x1="461" y1="513.9" x2="519.3" y2="513.9" stroke="#111" stroke-width="2.3"/>
<path d="M455.5 513.9 L465 510.79999999999995 L465 517.0 Z" fill="#111" stroke="#111" stroke-width="1" stroke-linejoin="round"/>
<line x1="418" y1="549.7" x2="519.3" y2="549.7" stroke="#111" stroke-width="2.3"/>
<path d="M412.5 549.7 L422 546.6 L422 552.8000000000001 Z" fill="#111" stroke="#111" stroke-width="1" stroke-linejoin="round"/>
<text x="53.31" y="535.20" font-family='"Liberation Serif", serif' font-weight="bold" font-size="33" fill="#000" stroke="#000" stroke-width="0.7" textLength="37.98" lengthAdjust="spacingAndGlyphs">(c)</text>
<text x="49.53" y="573.40" font-family='"Liberation Sans", sans-serif' font-weight="bold" font-size="18" fill="#000" stroke="#000" stroke-width="0.8" textLength="50.15" lengthAdjust="spacingAndGlyphs">Sb3d</text>
<text x="281.34" y="519.30" font-family='"Liberation Sans", sans-serif' font-weight="bold" font-size="16.5" fill="#000" stroke="#000" stroke-width="0.8" textLength="72.52" lengthAdjust="spacingAndGlyphs">530.75eV</text>
<text x="281.35" y="553.40" font-family='"Liberation Sans", sans-serif' font-weight="bold" font-size="16.5" fill="#000" stroke="#000" stroke-width="0.8" textLength="71.92" lengthAdjust="spacingAndGlyphs">529.00eV</text>
<text x="521.95" y="520.40" font-family='"Liberation Sans", sans-serif' font-weight="bold" font-size="16.5" fill="#000" stroke="#000" stroke-width="0.8" textLength="72.02" lengthAdjust="spacingAndGlyphs">540.09eV</text>
<text x="521.95" y="555.50" font-family='"Liberation Sans", sans-serif' font-weight="bold" font-size="16.5" fill="#000" stroke="#000" stroke-width="0.8" textLength="72.02" lengthAdjust="spacingAndGlyphs">538.33eV</text>
<text x="523.62" y="665.60" font-family='"Liberation Sans", sans-serif' font-weight="bold" font-size="18.5" fill="#1f8a84" stroke="#1f8a84" stroke-width="0.8" textLength="53.47" lengthAdjust="spacingAndGlyphs">HBr/N</text>
<text x="576.99" y="672.80" font-family='"Liberation Sans", sans-serif' font-weight="bold" font-size="11" fill="#1f8a84" stroke="#1f8a84" stroke-width="0.8" textLength="5.79" lengthAdjust="spacingAndGlyphs">2</text>
<text x="523.63" y="711.70" font-family='"Liberation Sans", sans-serif' font-weight="bold" font-size="18.5" fill="#2020a8" stroke="#2020a8" stroke-width="0.8" textLength="63.47" lengthAdjust="spacingAndGlyphs">HBr/He</text>
<text x="523.63" y="841.70" font-family='"Liberation Sans", sans-serif' font-weight="bold" font-size="18.5" fill="#e02222" stroke="#e02222" stroke-width="0.8" textLength="54.25" lengthAdjust="spacingAndGlyphs">HBr/O</text>
<text x="577.59" y="849.80" font-family='"Liberation Sans", sans-serif' font-weight="bold" font-size="11" fill="#e02222" stroke="#e02222" stroke-width="0.8" textLength="5.79" lengthAdjust="spacingAndGlyphs">2</text>
<text x="521.75" y="894.40" font-family='"Liberation Sans", sans-serif' font-weight="bold" font-size="18.5" fill="#000000" stroke="#000000" stroke-width="0.8" textLength="59.28" lengthAdjust="spacingAndGlyphs">HBr/Ar</text>
<text x="234.61" y="968.20" font-family='"Liberation Sans", sans-serif' font-weight="bold" font-size="19.2" fill="#000" stroke="#000" stroke-width="0.8" textLength="191.34" lengthAdjust="spacingAndGlyphs">Binding Energy(eV)</text>
<text transform="translate(20.80,785.35) rotate(-90)" x="0" y="0" font-family='"Liberation Sans", sans-serif' font-weight="bold" font-size="19.9" fill="#000" stroke="#000" stroke-width="0.8" textLength="145.84" lengthAdjust="spacingAndGlyphs">Intensity (a.u.)</text>
<line x1="822.2" y1="500" x2="822.2" y2="921" stroke="#303030" stroke-width="2.2" stroke-dasharray="5.8 2.5 1.8 2.5"/>
<line x1="904.8" y1="500" x2="904.8" y2="921" stroke="#303030" stroke-width="2.2" stroke-dasharray="5.8 2.5 1.8 2.5"/>
<line x1="1067.4" y1="500" x2="1067.4" y2="921" stroke="#303030" stroke-width="2.2" stroke-dasharray="5.8 2.5 1.8 2.5"/>
<line x1="1141.3" y1="500" x2="1141.3" y2="921" stroke="#303030" stroke-width="2.2" stroke-dasharray="5.8 2.5 1.8 2.5"/>
<path d="M692 584.5 L693 584.5 L694 584.5 L695 584.5 L696 584.5 L697 584.5 L698 584.5 L699 584.5 L700 584.5 L701 584.5 L702 584.5 L703 584.5 L704 584.5 L705 584.5 L706 584.5 L707 584.5 L708 584.5 L709 584.5 L710 584.5 L711 584.5 L712 584.5 L713 584.5 L714 584.5 L715 584.5 L716 584.5 L717 584.5 L718 584.5 L719 584.5 L720 584.5 L721 584.5 L722 584.5 L723 584.5 L724 584.5 L725 584.5 L726 584.5 L727 584.5 L728 584.5 L729 584.5 L730 584.5 L731 584.5 L732 584.5 L733 584.5 L734 584.5 L735 584.5 L736 584.5 L737 584.5 L738 584.5 L739 584.5 L740 584.5 L741 584.5 L742 584.5 L743 584.5 L744 584.5 L745 584.5 L746 584.5 L747 584.5 L748 584.5 L749 584.5 L750 584.5 L751 584.5 L752 584.5 L753 584.5 L754 584.5 L755 584.5 L756 584.5 L757 584.5 L758 584.5 L759 584.5 L760 584.5 L761 584.5 L762 584.5 L763 584.5 L764 584.5 L765 584.5 L766 584.5 L767 584.5 L768 584.5 L769 584.5 L770 584.5 L771 584.5 L772 584.5 L773 584.5 L774 584.5 L775 584.5 L776 584.5 L777 584.5 L778 584.5 L779 584.5 L780 584.4 L781 584.4 L782 584.4 L783 584.3 L784 584.3 L785 584.2 L786 584.1 L787 584 L788 583.9 L789 583.8 L790 583.6 L791 583.4 L792 583.2 L793 582.9 L794 582.6 L795 582.3 L796 581.9 L797 581.4 L798 580.9 L799 580.4 L800 579.8 L801 579.1 L802 578.5 L803 577.7 L804 577 L805 576.2 L806 575.4 L807 574.5 L808 573.7 L809 572.8 L810 572 L811 571.2 L812 570.3 L813 569.5 L814 568.8 L815 568.1 L816 567.4 L817 566.8 L818 566.3 L819 565.9 L820 565.6 L821 565.5 L822 565.5 L823 565.6 L824 565.9 L825 566.4 L826 567 L827 567.7 L828 568.6 L829 569.5 L830 570.4 L831 571.4 L832 572.4 L833 573.4 L834 574.3 L835 575.3 L836 576.1 L837 577 L838 577.8 L839 578.5 L840 579.1 L841 579.7 L842 580.3 L843 580.7 L844 581.1 L845 581.5 L846 581.8 L847 582.1 L848 582.3 L849 582.5 L850 582.6 L851 582.8 L852 582.9 L853 582.9 L854 583 L855 583.1 L856 583.1 L857 583.1 L858 583.1 L859 583.2 L860 583.2 L861 583.2 L862 583.2 L863 583.2 L864 583.2 L865 583.1 L866 583.1 L867 583.1 L868 583.1 L869 583.1 L870 583.1 L871 583 L872 583 L873 583 L874 582.9 L875 582.9 L876 582.9 L877 582.8 L878 582.8 L879 582.7 L880 582.6 L881 582.6 L882 582.5 L883 582.4 L884 582.3 L885 582.2 L886 582.1 L887 581.9 L888 581.8 L889 581.7 L890 581.5 L891 581.3 L892 581.1 L893 580.9 L894 580.7 L895 580.5 L896 580.3 L897 580 L898 579.8 L899 579.7 L900 579.5 L901 579.4 L902 579.3 L903 579.3 L904 579.3 L905 579.5 L906 579.7 L907 579.9 L908 580.2 L909 580.5 L910 580.8 L911 581.1 L912 581.3 L913 581.5 L914 581.8 L915 581.9 L916 582.1 L917 582.3 L918 582.4 L919 582.5 L920 582.6 L921 582.7 L922 582.7 L923 582.8 L924 582.8 L925 582.9 L926 582.9 L927 582.9 L928 582.9 L929 582.9 L930 582.9 L931 583 L932 583 L933 583 L934 583.1 L935 583.1 L936 583.1 L937 583.2 L938 583.2 L939 583.2 L940 583.2 L941 583.3 L942 583.3 L943 583.3 L944 583.3 L945 583.3 L946 583.4 L947 583.4 L948 583.4 L949 583.4 L950 583.4 L951 583.4 L952 583.4 L953 583.5 L954 583.5 L955 583.5 L956 583.5 L957 583.5 L958 583.5 L959 583.5 L960 583.6 L961 583.6 L962 583.6 L963 583.6 L964 583.6 L965 583.6 L966 583.6 L967 583.6 L968 583.6 L969 583.7 L970 583.7 L971 583.7 L972 583.7 L973 583.7 L974 583.7 L975 583.7 L976 583.7 L977 583.7 L978 583.7 L979 583.7 L980 583.7 L981 583.8 L982 583.8 L983 583.8 L984 583.8 L985 583.8 L986 583.8 L987 583.8 L988 583.8 L989 583.8 L990 583.8 L991 583.8 L992 583.8 L993 583.8 L994 583.8 L995 583.8 L996 583.8 L997 583.8 L998 583.7 L999 583.7 L1000 583.7 L1001 583.7 L1002 583.7 L1003 583.7 L1004 583.7 L1005 583.7 L1006 583.7 L1007 583.7 L1008 583.7 L1009 583.6 L1010 583.6 L1011 583.6 L1012 583.6 L1013 583.6 L1014 583.6 L1015 583.5 L1016 583.5 L1017 583.5 L1018 583.5 L1019 583.4 L1020 583.4 L1021 583.4 L1022 583.4 L1023 583.3 L1024 583.3 L1025 583.2 L1026 583.2 L1027 583.1 L1028 583.1 L1029 583 L1030 582.9 L1031 582.8 L1032 582.7 L1033 582.6 L1034 582.4 L1035 582.3 L1036 582.1 L1037 581.8 L1038 581.6 L1039 581.3 L1040 581 L1041 580.6 L1042 580.1 L1043 579.7 L1044 579.1 L1045 578.6 L1046 577.9 L1047 577.3 L1048 576.5 L1049 575.8 L1050 575.1 L1051 574.3 L1052 573.6 L1053 572.9 L1054 572.2 L1055 571.7 L1056 571.3 L1057 571 L1058 570.9 L1059 571 L1060 571 L1061 571.2 L1062 571.4 L1063 571.6 L1064 571.9 L1065 572.3 L1066 572.6 L1067 573 L1068 573.4 L1069 573.9 L1070 574.3 L1071 574.8 L1072 575.2 L1073 575.6 L1074 576.1 L1075 576.5 L1076 576.9 L1077 577.3 L1078 577.7 L1079 578.1 L1080 578.4 L1081 578.8 L1082 579.1 L1083 579.4 L1084 579.7 L1085 580 L1086 580.2 L1087 580.5 L1088 580.7 L1089 580.9 L1090 581.1 L1091 581.3 L1092 581.4 L1093 581.6 L1094 581.7 L1095 581.9 L1096 582 L1097 582.1 L1098 582.1 L1099 582.2 L1100 582.3 L1101 582.3 L1102 582.4 L1103 582.4 L1104 582.5 L1105 582.5 L1106 582.5 L1107 582.5 L1108 582.5 L1109 582.5 L1110 582.4 L1111 582.4 L1112 582.4 L1113 582.3 L1114 582.2 L1115 582.2 L1116 582.1 L1117 582 L1118 581.9 L1119 581.8 L1120 581.7 L1121 581.6 L1122 581.5 L1123 581.4 L1124 581.2 L1125 581.1 L1126 581 L1127 580.8 L1128 580.7 L1129 580.6 L1130 580.4 L1131 580.3 L1132 580.2 L1133 580.1 L1134 579.9 L1135 579.8 L1136 579.7 L1137 579.6 L1138 579.5 L1139 579.5 L1140 579.4 L1141 579.4 L1142 579.4 L1143 579.5 L1144 579.6 L1145 579.7 L1146 579.9 L1147 580 L1148 580.2 L1149 580.4 L1150 580.5 L1151 580.7 L1152 580.8 L1153 580.9 L1154 581 L1155 581.1 L1156 581.2 L1157 581.2 L1158 581.3 L1159 581.3 L1160 581.4 L1161 581.4 L1162 581.4 L1163 581.4 L1164 581.4 L1165 581.4 L1166 581.4 L1167 581.4 L1168 581.4 L1169 581.4 L1170 581.4 L1171 581.4 L1172 581.4 L1173 581.4 L1174 581.3 L1175 581.3 L1176 581.3 L1177 581.3 L1178 581.3 L1179 581.3 L1180 581.3 L1181 581.3 L1182 581.3 L1183 581.3 L1184 581.3 L1185 581.3 L1186 581.3 L1187 581.3 L1188 581.3 L1189 581.3 L1190 581.3 L1191 581.3 L1192 581.3 L1193 581.3 L1194 581.3 L1195 581.3 L1196 581.3 L1197 581.3 L1198 581.3 L1199 581.3 L1200 581.3 L1201 581.3 L1202 581.3 L1203 581.3 L1204 581.3 L1205 581.3 L1206 581.3 L1207 581.3 L1208 581.3 L1209 581.3 L1210 581.3 L1211 581.3 L1212 581.3 L1213 581.3 L1214 581.3 L1215 581.3 L1216 581.3 L1217 581.3 L1218 581.3 L1219 581.3 L1220 581.3 L1221 581.3 L1222 581.3 L1223 581.3 L1224 581.3 L1225 581.3 L1226 581.3 L1227 581.3 L1228 581.3 L1229 581.3 L1230 581.3 L1231 581.3 L1232 581.3 L1233 581.3 L1234 581.3 L1235 581.4 L1236 581.4 L1237 581.4 L1238 581.4 L1239 581.4 L1240 581.4 L1241 581.4 L1242 581.4 L1243 581.4 L1244 581.4 L1245 581.4 L1246 581.4 L1247 581.4 L1248 581.4 L1249 581.4 L1250 581.4 L1251 581.4 L1252 581.4 L1253 581.4 L1254 581.4 L1255 581.4 L1256 581.4 L1257 581.4 L1258 581.4 L1258.9 581.4" fill="none" stroke="#167a7a" stroke-width="3.7" stroke-linejoin="round" stroke-linecap="round"/>
<path d="M692 746.7 L693 746.7 L694 746.7 L695 746.7 L696 746.7 L697 746.7 L698 746.7 L699 746.7 L700 746.7 L701 746.7 L702 746.7 L703 746.7 L704 746.7 L705 746.7 L706 746.7 L707 746.7 L708 746.7 L709 746.6 L710 746.6 L711 746.6 L712 746.6 L713 746.6 L714 746.6 L715 746.6 L716 746.6 L717 746.6 L718 746.6 L719 746.6 L720 746.6 L721 746.6 L722 746.6 L723 746.5 L724 746.5 L725 746.5 L726 746.5 L727 746.5 L728 746.5 L729 746.5 L730 746.5 L731 746.4 L732 746.4 L733 746.4 L734 746.4 L735 746.4 L736 746.3 L737 746.3 L738 746.3 L739 746.3 L740 746.3 L741 746.2 L742 746.2 L743 746.2 L744 746.2 L745 746.1 L746 746.1 L747 746.1 L748 746 L749 746 L750 746 L751 745.9 L752 745.9 L753 745.9 L754 745.8 L755 745.8 L756 745.7 L757 745.7 L758 745.6 L759 745.6 L760 745.5 L761 745.5 L762 745.4 L763 745.3 L764 745.2 L765 745.1 L766 744.9 L767 744.8 L768 744.7 L769 744.5 L770 744.4 L771 744.2 L772 744.1 L773 743.9 L774 743.7 L775 743.6 L776 743.4 L777 743.2 L778 743 L779 742.8 L780 742.5 L781 742.3 L782 742 L783 741.8 L784 741.5 L785 741.1 L786 740.8 L787 740.4 L788 740 L789 739.6 L790 739 L791 738.4 L792 737.7 L793 736.9 L794 735.9 L795 734.7 L796 733.3 L797 731.7 L798 729.8 L799 727.5 L800 725 L801 722.2 L802 719.2 L803 715.9 L804 712.4 L805 708.6 L806 704.5 L807 699.9 L808 694.8 L809 689.2 L810 683 L811 676.5 L812 669.5 L813 662 L814 654.3 L815 646.3 L816 638.4 L817 630.8 L818 623.7 L819 617.2 L820 611.6 L821 606.8 L822 602.9 L823 599.9 L824 597.9 L825 596.8 L826 596.9 L827 598.2 L828 600.9 L829 604.9 L830 610.1 L831 616.2 L832 623.1 L833 630.7 L834 638.6 L835 646.7 L836 654.7 L837 662.6 L838 670.2 L839 677.3 L840 684 L841 690.1 L842 695.7 L843 700.7 L844 705 L845 708.8 L846 712.1 L847 714.9 L848 717.2 L849 719.2 L850 720.8 L851 722.1 L852 723.2 L853 724 L854 724.7 L855 725.2 L856 725.6 L857 726 L858 726.3 L859 726.5 L860 726.8 L861 727.2 L862 727.5 L863 727.8 L864 728.1 L865 728.3 L866 728.6 L867 728.8 L868 729 L869 729.2 L870 729.4 L871 729.5 L872 729.6 L873 729.6 L874 729.5 L875 729.4 L876 729.2 L877 729 L878 728.7 L879 728.5 L880 728.2 L881 727.8 L882 727.5 L883 727.1 L884 726.7 L885 726.3 L886 725.8 L887 725.4 L888 725 L889 724.5 L890 724.1 L891 723.6 L892 723.2 L893 722.7 L894 722.2 L895 721.8 L896 721.3 L897 720.9 L898 720.5 L899 720.1 L900 719.7 L901 719.4 L902 719.2 L903 718.9 L904 718.8 L905 718.7 L906 718.7 L907 718.7 L908 719 L909 719.5 L910 720.2 L911 721.1 L912 722.1 L913 723.1 L914 724.1 L915 725.1 L916 726.1 L917 727 L918 727.9 L919 728.6 L920 729.3 L921 730 L922 730.5 L923 731 L924 731.4 L925 731.7 L926 732 L927 732.3 L928 732.5 L929 732.7 L930 732.8 L931 732.9 L932 733.1 L933 733.2 L934 733.2 L935 733.3 L936 733.4 L937 733.4 L938 733.5 L939 733.5 L940 733.6 L941 733.6 L942 733.6 L943 733.7 L944 733.7 L945 733.7 L946 733.7 L947 733.8 L948 733.8 L949 733.8 L950 733.8 L951 733.8 L952 733.8 L953 733.9 L954 733.9 L955 733.9 L956 733.9 L957 733.9 L958 733.9 L959 733.9 L960 733.9 L961 733.9 L962 733.9 L963 733.9 L964 733.9 L965 733.9 L966 733.9 L967 733.9 L968 733.9 L969 733.9 L970 733.9 L971 733.9 L972 733.9 L973 733.9 L974 733.9 L975 733.9 L976 733.9 L977 733.9 L978 733.9 L979 733.9 L980 733.9 L981 733.9 L982 733.8 L983 733.8 L984 733.7 L985 733.7 L986 733.7 L987 733.6 L988 733.6 L989 733.5 L990 733.5 L991 733.4 L992 733.4 L993 733.3 L994 733.3 L995 733.2 L996 733.2 L997 733.1 L998 733.1 L999 733 L1000 733 L1001 732.9 L1002 732.9 L1003 732.8 L1004 732.7 L1005 732.7 L1006 732.6 L1007 732.5 L1008 732.5 L1009 732.4 L1010 732.3 L1011 732.2 L1012 732.2 L1013 732.1 L1014 732 L1015 731.9 L1016 731.8 L1017 731.7 L1018 731.6 L1019 731.5 L1020 731.4 L1021 731.3 L1022 731.1 L1023 731 L1024 730.9 L1025 730.7 L1026 730.5 L1027 730.3 L1028 730.1 L1029 729.9 L1030 729.6 L1031 729.4 L1032 729 L1033 728.7 L1034 728.3 L1035 727.8 L1036 727.2 L1037 726.5 L1038 725.7 L1039 724.6 L1040 723.4 L1041 722 L1042 720.5 L1043 718.8 L1044 717 L1045 715.2 L1046 713.3 L1047 711.2 L1048 708.7 L1049 705.6 L1050 701.7 L1051 697 L1052 691.6 L1053 685.8 L1054 679.7 L1055 673.6 L1056 667.6 L1057 661.7 L1058 656.1 L1059 650.7 L1060 645.7 L1061 641.2 L1062 637.3 L1063 634.1 L1064 631.8 L1065 630.4 L1066 630 L1067 630.7 L1068 632.6 L1069 635.5 L1070 639.4 L1071 644 L1072 649.2 L1073 654.8 L1074 660.6 L1075 666.4 L1076 672.3 L1077 678.1 L1078 683.6 L1079 688.8 L1080 693.7 L1081 698 L1082 701.9 L1083 705.2 L1084 708 L1085 710.3 L1086 712.2 L1087 713.7 L1088 715 L1089 716 L1090 716.9 L1091 717.5 L1092 718 L1093 718.4 L1094 718.7 L1095 719 L1096 719.3 L1097 719.5 L1098 719.8 L1099 720.1 L1100 720.3 L1101 720.5 L1102 720.8 L1103 721 L1104 721.2 L1105 721.4 L1106 721.5 L1107 721.7 L1108 721.9 L1109 722 L1110 722.2 L1111 722.3 L1112 722.3 L1113 722.4 L1114 722.4 L1115 722.3 L1116 722.2 L1117 722.1 L1118 722 L1119 721.8 L1120 721.6 L1121 721.3 L1122 721.1 L1123 720.7 L1124 720.4 L1125 719.9 L1126 719.5 L1127 719 L1128 718.4 L1129 717.9 L1130 717.3 L1131 716.7 L1132 716.1 L1133 715.6 L1134 715 L1135 714.5 L1136 714.1 L1137 713.8 L1138 713.5 L1139 713.4 L1140 713.3 L1141 713.3 L1142 713.3 L1143 713.3 L1144 713.4 L1145 713.5 L1146 713.6 L1147 713.8 L1148 714 L1149 714.2 L1150 714.4 L1151 714.6 L1152 714.8 L1153 715.1 L1154 715.4 L1155 715.6 L1156 715.9 L1157 716.2 L1158 716.5 L1159 716.7 L1160 717 L1161 717.3 L1162 717.5 L1163 717.8 L1164 718 L1165 718.2 L1166 718.4 L1167 718.6 L1168 718.8 L1169 719 L1170 719.2 L1171 719.3 L1172 719.4 L1173 719.6 L1174 719.7 L1175 719.8 L1176 719.9 L1177 719.9 L1178 720 L1179 720.1 L1180 720.1 L1181 720.2 L1182 720.2 L1183 720.2 L1184 720.3 L1185 720.3 L1186 720.3 L1187 720.3 L1188 720.4 L1189 720.4 L1190 720.4 L1191 720.4 L1192 720.4 L1193 720.4 L1194 720.4 L1195 720.4 L1196 720.4 L1197 720.4 L1198 720.4 L1199 720.4 L1200 720.4 L1201 720.4 L1202 720.4 L1203 720.4 L1204 720.4 L1205 720.4 L1206 720.4 L1207 720.4 L1208 720.4 L1209 720.4 L1210 720.4 L1211 720.3 L1212 720.3 L1213 720.3 L1214 720.3 L1215 720.3 L1216 720.3 L1217 720.3 L1218 720.3 L1219 720.3 L1220 720.3 L1221 720.3 L1222 720.3 L1223 720.3 L1224 720.3 L1225 720.3 L1226 720.3 L1227 720.3 L1228 720.3 L1229 720.3 L1230 720.3 L1231 720.2 L1232 720.2 L1233 720.2 L1234 720.2 L1235 720.2 L1236 720.2 L1237 720.2 L1238 720.2 L1239 720.2 L1240 720.2 L1241 720.2 L1242 720.2 L1243 720.2 L1244 720.2 L1245 720.2 L1246 720.2 L1247 720.2 L1248 720.2 L1249 720.2 L1250 720.2 L1251 720.2 L1252 720.1 L1253 720.1 L1254 720.1 L1255 720.1 L1256 720.1 L1257 720.1 L1258 720.1 L1259 720.1 L1260 720.1 L1261 720.1 L1261.7 720.1" fill="none" stroke="#1212d6" stroke-width="3.7" stroke-linejoin="round" stroke-linecap="round"/>
<path d="M692 801.2 L693 801.2 L694 801.2 L695 801.2 L696 801.2 L697 801.2 L698 801.2 L699 801.2 L700 801.2 L701 801.2 L702 801.2 L703 801.2 L704 801.2 L705 801.2 L706 801.2 L707 801.2 L708 801.2 L709 801.2 L710 801.2 L711 801.2 L712 801.2 L713 801.2 L714 801.2 L715 801.2 L716 801.2 L717 801.2 L718 801.2 L719 801.2 L720 801.2 L721 801.2 L722 801.2 L723 801.2 L724 801.2 L725 801.2 L726 801.2 L727 801.2 L728 801.2 L729 801.2 L730 801.2 L731 801.2 L732 801.2 L733 801.2 L734 801.2 L735 801.2 L736 801.2 L737 801.2 L738 801.2 L739 801.2 L740 801.2 L741 801.2 L742 801.2 L743 801.2 L744 801.2 L745 801.2 L746 801.2 L747 801.2 L748 801.2 L749 801.1 L750 801.1 L751 801.1 L752 801 L753 801 L754 801 L755 801 L756 800.9 L757 800.9 L758 800.9 L759 800.8 L760 800.8 L761 800.8 L762 800.7 L763 800.7 L764 800.7 L765 800.6 L766 800.6 L767 800.6 L768 800.5 L769 800.5 L770 800.4 L771 800.4 L772 800.3 L773 800.2 L774 800.2 L775 800.1 L776 800 L777 799.9 L778 799.8 L779 799.7 L780 799.6 L781 799.5 L782 799.4 L783 799.3 L784 799.2 L785 799.1 L786 798.9 L787 798.7 L788 798.4 L789 798 L790 797.6 L791 797.1 L792 796.4 L793 795.6 L794 794.7 L795 793.6 L796 792.5 L797 791.2 L798 789.9 L799 788.4 L800 786.9 L801 785.4 L802 783.8 L803 782.1 L804 780.4 L805 778.6 L806 776.8 L807 775 L808 773.2 L809 771.4 L810 769.7 L811 768.1 L812 766.6 L813 765.1 L814 763.8 L815 762.6 L816 761.6 L817 760.7 L818 760 L819 759.5 L820 759.2 L821 759 L822 759.1 L823 759.2 L824 759.6 L825 760.1 L826 760.7 L827 761.5 L828 762.4 L829 763.5 L830 764.8 L831 766.2 L832 767.6 L833 769.2 L834 770.8 L835 772.4 L836 774.1 L837 775.8 L838 777.5 L839 779.2 L840 780.8 L841 782.4 L842 784 L843 785.5 L844 786.8 L845 788.1 L846 789.3 L847 790.3 L848 791.2 L849 792 L850 792.7 L851 793.3 L852 793.8 L853 794.2 L854 794.6 L855 794.9 L856 795.2 L857 795.5 L858 795.7 L859 796 L860 796.2 L861 796.4 L862 796.6 L863 796.8 L864 796.9 L865 797.1 L866 797.2 L867 797.3 L868 797.4 L869 797.5 L870 797.5 L871 797.6 L872 797.6 L873 797.7 L874 797.7 L875 797.8 L876 797.8 L877 797.8 L878 797.7 L879 797.7 L880 797.6 L881 797.5 L882 797.4 L883 797.3 L884 797.2 L885 797 L886 796.8 L887 796.6 L888 796.3 L889 796.1 L890 795.8 L891 795.4 L892 795.1 L893 794.7 L894 794.3 L895 793.8 L896 793.3 L897 792.8 L898 792.3 L899 791.8 L900 791.3 L901 790.8 L902 790.3 L903 789.8 L904 789.2 L905 788.8 L906 788.3 L907 787.8 L908 787.4 L909 787.1 L910 786.8 L911 786.6 L912 786.5 L913 786.4 L914 786.5 L915 786.6 L916 786.8 L917 787 L918 787.3 L919 787.7 L920 788.1 L921 788.6 L922 789.1 L923 789.6 L924 790.2 L925 790.7 L926 791.3 L927 791.8 L928 792.4 L929 792.9 L930 793.4 L931 793.9 L932 794.4 L933 794.8 L934 795.2 L935 795.6 L936 796 L937 796.3 L938 796.6 L939 796.9 L940 797.1 L941 797.3 L942 797.5 L943 797.7 L944 797.8 L945 798 L946 798.1 L947 798.2 L948 798.3 L949 798.3 L950 798.4 L951 798.4 L952 798.5 L953 798.5 L954 798.6 L955 798.6 L956 798.6 L957 798.6 L958 798.7 L959 798.7 L960 798.7 L961 798.7 L962 798.7 L963 798.7 L964 798.8 L965 798.8 L966 798.8 L967 798.8 L968 798.8 L969 798.8 L970 798.8 L971 798.8 L972 798.8 L973 798.8 L974 798.9 L975 798.9 L976 798.9 L977 798.9 L978 798.9 L979 798.9 L980 798.9 L981 798.9 L982 798.9 L983 798.9 L984 798.8 L985 798.8 L986 798.8 L987 798.8 L988 798.8 L989 798.8 L990 798.8 L991 798.7 L992 798.7 L993 798.7 L994 798.7 L995 798.7 L996 798.7 L997 798.6 L998 798.6 L999 798.6 L1000 798.6 L1001 798.6 L1002 798.6 L1003 798.5 L1004 798.5 L1005 798.5 L1006 798.5 L1007 798.5 L1008 798.4 L1009 798.4 L1010 798.4 L1011 798.3 L1012 798.3 L1013 798.3 L1014 798.2 L1015 798.2 L1016 798.1 L1017 798 L1018 798 L1019 797.9 L1020 797.8 L1021 797.7 L1022 797.6 L1023 797.5 L1024 797.4 L1025 797.3 L1026 797.2 L1027 797 L1028 796.7 L1029 796.4 L1030 796.1 L1031 795.6 L1032 795.1 L1033 794.4 L1034 793.7 L1035 792.8 L1036 791.8 L1037 790.8 L1038 789.7 L1039 788.5 L1040 787.2 L1041 785.9 L1042 784.5 L1043 783.2 L1044 781.8 L1045 780.5 L1046 779.1 L1047 777.9 L1048 776.6 L1049 775.4 L1050 774.3 L1051 773.2 L1052 772.3 L1053 771.4 L1054 770.6 L1055 769.9 L1056 769.3 L1057 768.9 L1058 768.6 L1059 768.5 L1060 768.5 L1061 768.7 L1062 768.9 L1063 769.3 L1064 769.9 L1065 770.5 L1066 771.2 L1067 772 L1068 773 L1069 773.9 L1070 775 L1071 776.1 L1072 777.2 L1073 778.4 L1074 779.7 L1075 780.9 L1076 782.1 L1077 783.3 L1078 784.4 L1079 785.5 L1080 786.6 L1081 787.5 L1082 788.4 L1083 789.3 L1084 790 L1085 790.7 L1086 791.3 L1087 791.8 L1088 792.2 L1089 792.6 L1090 793 L1091 793.3 L1092 793.5 L1093 793.7 L1094 793.9 L1095 794 L1096 794.1 L1097 794.2 L1098 794.3 L1099 794.4 L1100 794.4 L1101 794.5 L1102 794.5 L1103 794.5 L1104 794.5 L1105 794.5 L1106 794.5 L1107 794.5 L1108 794.4 L1109 794.4 L1110 794.3 L1111 794.2 L1112 794.2 L1113 794.1 L1114 794 L1115 793.9 L1116 793.7 L1117 793.6 L1118 793.5 L1119 793.3 L1120 793.2 L1121 793 L1122 792.8 L1123 792.6 L1124 792.4 L1125 792.1 L1126 791.9 L1127 791.6 L1128 791.4 L1129 791.1 L1130 790.8 L1131 790.6 L1132 790.3 L1133 790 L1134 789.6 L1135 789.3 L1136 789 L1137 788.7 L1138 788.3 L1139 788 L1140 787.7 L1141 787.4 L1142 787.1 L1143 786.7 L1144 786.4 L1145 786.1 L1146 785.9 L1147 785.6 L1148 785.3 L1149 785.1 L1150 784.9 L1151 784.7 L1152 784.6 L1153 784.4 L1154 784.3 L1155 784.3 L1156 784.3 L1157 784.5 L1158 784.7 L1159 784.9 L1160 785.3 L1161 785.7 L1162 786.1 L1163 786.5 L1164 787 L1165 787.4 L1166 787.8 L1167 788.3 L1168 788.7 L1169 789.1 L1170 789.4 L1171 789.8 L1172 790.1 L1173 790.3 L1174 790.6 L1175 790.8 L1176 791 L1177 791.1 L1178 791.3 L1179 791.4 L1180 791.5 L1181 791.6 L1182 791.6 L1183 791.7 L1184 791.8 L1185 791.8 L1186 791.8 L1187 791.9 L1188 791.9 L1189 791.9 L1190 791.9 L1191 791.9 L1192 791.9 L1193 791.9 L1194 791.8 L1195 791.8 L1196 791.8 L1197 791.8 L1198 791.8 L1199 791.7 L1200 791.7 L1201 791.7 L1202 791.7 L1203 791.7 L1204 791.7 L1205 791.6 L1206 791.6 L1207 791.6 L1208 791.6 L1209 791.6 L1210 791.5 L1211 791.5 L1212 791.5 L1213 791.5 L1214 791.5 L1215 791.4 L1216 791.4 L1217 791.4 L1218 791.4 L1219 791.4 L1220 791.4 L1221 791.3 L1222 791.3 L1223 791.3 L1224 791.3 L1225 791.3 L1226 791.3 L1227 791.2 L1228 791.2 L1229 791.2 L1230 791.3 L1231 791.3 L1232 791.3 L1233 791.3 L1234 791.4 L1235 791.4 L1236 791.4 L1237 791.5 L1238 791.5 L1239 791.5 L1240 791.6 L1241 791.6 L1242 791.6 L1243 791.7 L1244 791.7 L1245 791.7 L1246 791.7 L1247 791.8 L1248 791.8 L1249 791.8 L1250 791.9 L1251 791.9 L1252 791.9 L1253 792 L1254 792 L1255 792 L1256 792.1 L1257 792.1 L1258 792.1 L1259 792.2 L1260 792.2 L1261 792.2 L1262 792.3 L1263 792.3 L1264 792.3 L1265 792.4 L1266 792.4 L1267 792.4 L1268 792.4 L1269 792.5 L1269.5 792.5" fill="none" stroke="#dc1a16" stroke-width="3.7" stroke-linejoin="round" stroke-linecap="round"/>
<path d="M692 914.4 L693 914.4 L694 914.4 L695 914.4 L696 914.4 L697 914.4 L698 914.4 L699 914.4 L700 914.4 L701 914.3 L702 914.3 L703 914.3 L704 914.3 L705 914.3 L706 914.3 L707 914.3 L708 914.3 L709 914.3 L710 914.3 L711 914.3 L712 914.2 L713 914.2 L714 914.2 L715 914.2 L716 914.2 L717 914.2 L718 914.2 L719 914.1 L720 914.1 L721 914.1 L722 914.1 L723 914.1 L724 914.1 L725 914 L726 914 L727 914 L728 914 L729 914 L730 913.9 L731 913.9 L732 913.9 L733 913.9 L734 913.8 L735 913.8 L736 913.8 L737 913.8 L738 913.7 L739 913.7 L740 913.7 L741 913.6 L742 913.6 L743 913.6 L744 913.5 L745 913.5 L746 913.4 L747 913.4 L748 913.3 L749 913.3 L750 913.2 L751 913.2 L752 913.1 L753 913 L754 912.9 L755 912.8 L756 912.8 L757 912.7 L758 912.6 L759 912.5 L760 912.4 L761 912.3 L762 912.2 L763 912.1 L764 912 L765 911.8 L766 911.7 L767 911.6 L768 911.5 L769 911.3 L770 911.2 L771 911 L772 910.8 L773 910.6 L774 910.5 L775 910.3 L776 910 L777 909.8 L778 909.6 L779 909.3 L780 909 L781 908.6 L782 908.2 L783 907.7 L784 907.2 L785 906.7 L786 906.1 L787 905.4 L788 904.6 L789 903.8 L790 902.9 L791 902 L792 900.9 L793 899.7 L794 898.4 L795 896.8 L796 895.1 L797 893.2 L798 891.1 L799 888.7 L800 886 L801 883.1 L802 879.9 L803 876.5 L804 872.9 L805 869 L806 865 L807 860.8 L808 856.4 L809 851.9 L810 847.3 L811 842.6 L812 837.8 L813 833.2 L814 828.7 L815 824.7 L816 821.2 L817 818.4 L818 816.3 L819 814.9 L820 814.3 L821 814.4 L822 815.3 L823 817 L824 819.5 L825 822.7 L826 826.6 L827 830.9 L828 835.6 L829 840.3 L830 845.1 L831 849.8 L832 854.4 L833 858.8 L834 863 L835 867 L836 870.7 L837 874.2 L838 877.4 L839 880.4 L840 883.1 L841 885.5 L842 887.7 L843 889.7 L844 891.4 L845 892.9 L846 894.2 L847 895.4 L848 896.4 L849 897.3 L850 898.1 L851 898.7 L852 899.2 L853 899.7 L854 900.1 L855 900.4 L856 900.7 L857 900.9 L858 901 L859 901.1 L860 901.2 L861 901.2 L862 901.2 L863 901.1 L864 901 L865 900.8 L866 900.6 L867 900.3 L868 899.9 L869 899.5 L870 899 L871 898.4 L872 897.7 L873 897 L874 896.1 L875 895.2 L876 894.1 L877 893 L878 891.8 L879 890.5 L880 889.1 L881 887.7 L882 886.2 L883 884.6 L884 883 L885 881.5 L886 879.9 L887 878.3 L888 876.9 L889 875.4 L890 874.1 L891 872.9 L892 871.8 L893 870.9 L894 870.2 L895 869.6 L896 869.3 L897 869.1 L898 869.2 L899 869.5 L900 869.9 L901 870.6 L902 871.4 L903 872.3 L904 873.5 L905 874.7 L906 876 L907 877.5 L908 878.9 L909 880.5 L910 882 L911 883.6 L912 885.2 L913 886.7 L914 888.2 L915 889.7 L916 891.1 L917 892.5 L918 893.7 L919 894.9 L920 896 L921 897.1 L922 898 L923 898.9 L924 899.6 L925 900.4 L926 901 L927 901.6 L928 902.1 L929 902.5 L930 902.9 L931 903.3 L932 903.6 L933 903.9 L934 904.1 L935 904.3 L936 904.5 L937 904.6 L938 904.7 L939 904.9 L940 904.9 L941 905 L942 905.1 L943 905.2 L944 905.2 L945 905.2 L946 905.3 L947 905.3 L948 905.3 L949 905.4 L950 905.4 L951 905.4 L952 905.4 L953 905.4 L954 905.4 L955 905.4 L956 905.4 L957 905.3 L958 905.3 L959 905.3 L960 905.3 L961 905.3 L962 905.3 L963 905.3 L964 905.2 L965 905.2 L966 905.2 L967 905.2 L968 905.2 L969 905.2 L970 905.1 L971 905.1 L972 905.1 L973 905.1 L974 905 L975 905 L976 905 L977 905 L978 905 L979 904.9 L980 904.9 L981 904.9 L982 904.9 L983 904.9 L984 904.9 L985 904.9 L986 905 L987 905 L988 905 L989 905 L990 905 L991 905 L992 905 L993 905 L994 905 L995 905 L996 905 L997 905 L998 905 L999 904.9 L1000 904.9 L1001 904.9 L1002 904.9 L1003 904.9 L1004 904.9 L1005 904.9 L1006 904.8 L1007 904.8 L1008 904.8 L1009 904.8 L1010 904.7 L1011 904.7 L1012 904.7 L1013 904.6 L1014 904.6 L1015 904.5 L1016 904.5 L1017 904.4 L1018 904.3 L1019 904.2 L1020 904.1 L1021 903.9 L1022 903.6 L1023 903.3 L1024 902.9 L1025 902.5 L1026 902 L1027 901.5 L1028 901 L1029 900.4 L1030 899.8 L1031 899.1 L1032 898.4 L1033 897.8 L1034 897.1 L1035 896.5 L1036 895.7 L1037 894.9 L1038 893.9 L1039 892.7 L1040 891.3 L1041 889.5 L1042 887.5 L1043 885.3 L1044 882.8 L1045 880 L1046 877.1 L1047 873.8 L1048 870.4 L1049 866.7 L1050 862.9 L1051 859.2 L1052 855.6 L1053 852.2 L1054 849 L1055 846.1 L1056 843.5 L1057 841.3 L1058 839.5 L1059 838.2 L1060 837.4 L1061 837.1 L1062 837.3 L1063 838 L1064 839.2 L1065 840.8 L1066 842.7 L1067 845 L1068 847.6 L1069 850.5 L1070 853.6 L1071 856.9 L1072 860.2 L1073 863.5 L1074 866.7 L1075 869.8 L1076 872.7 L1077 875.4 L1078 877.9 L1079 880.2 L1080 882.3 L1081 884.2 L1082 885.8 L1083 887.3 L1084 888.6 L1085 889.8 L1086 890.8 L1087 891.6 L1088 892.3 L1089 892.9 L1090 893.4 L1091 893.9 L1092 894.2 L1093 894.5 L1094 894.7 L1095 894.9 L1096 895 L1097 895.1 L1098 895.2 L1099 895.3 L1100 895.3 L1101 895.3 L1102 895.3 L1103 895.2 L1104 895.1 L1105 895 L1106 894.8 L1107 894.6 L1108 894.3 L1109 894 L1110 893.6 L1111 893.1 L1112 892.5 L1113 891.9 L1114 891.2 L1115 890.4 L1116 889.5 L1117 888.6 L1118 887.7 L1119 886.7 L1120 885.7 L1121 884.7 L1122 883.6 L1123 882.6 L1124 881.5 L1125 880.4 L1126 879.3 L1127 878.2 L1128 877.1 L1129 876 L1130 875 L1131 874.1 L1132 873.2 L1133 872.5 L1134 871.9 L1135 871.5 L1136 871.2 L1137 871.2 L1138 871.3 L1139 871.6 L1140 872 L1141 872.5 L1142 873.2 L1143 874 L1144 874.9 L1145 875.9 L1146 877 L1147 878 L1148 879 L1149 879.9 L1150 880.8 L1151 881.7 L1152 882.6 L1153 883.4 L1154 884.2 L1155 884.9 L1156 885.7 L1157 886.4 L1158 887.1 L1159 887.9 L1160 888.5 L1161 889.2 L1162 889.8 L1163 890.4 L1164 890.9 L1165 891.3 L1166 891.7 L1167 892.1 L1168 892.5 L1169 892.7 L1170 893 L1171 893.2 L1172 893.4 L1173 893.6 L1174 893.8 L1175 893.9 L1176 894 L1177 894.1 L1178 894.2 L1179 894.2 L1180 894.2 L1181 894.3 L1182 894.3 L1183 894.3 L1184 894.3 L1185 894.3 L1186 894.3 L1187 894.3 L1188 894.3 L1189 894.3 L1190 894.3 L1191 894.3 L1192 894.3 L1193 894.3 L1194 894.2 L1195 894.2 L1196 894.2 L1197 894.2 L1198 894.2 L1199 894.1 L1200 894.1 L1201 894.1 L1202 894.1 L1203 894.1 L1204 894 L1205 894 L1206 894 L1207 894 L1208 894 L1209 894 L1210 894.1 L1211 894.1 L1212 894.1 L1213 894.1 L1214 894.1 L1215 894.1 L1216 894.1 L1217 894.1 L1218 894.1 L1219 894.1 L1220 894.2 L1221 894.2 L1222 894.2 L1223 894.2 L1224 894.2 L1225 894.2 L1226 894.2 L1227 894.2 L1228 894.2 L1229 894.2 L1230 894.2 L1231 894.2 L1232 894.2 L1233 894.3 L1234 894.3 L1235 894.3 L1236 894.3 L1237 894.3 L1238 894.3 L1239 894.3 L1240 894.3 L1241 894.3 L1242 894.3 L1243 894.3 L1244 894.3 L1245 894.3 L1246 894.3 L1247 894.3 L1248 894.3 L1249 894.3 L1250 894.4 L1251 894.4 L1252 894.4 L1253 894.4 L1254 894.4 L1255 894.4 L1256 894.4 L1257 894.4 L1258 894.4 L1259 894.4 L1259.6 894.4" fill="none" stroke="#080808" stroke-width="3.7" stroke-linejoin="round" stroke-linecap="round"/>
<rect x="692.0" y="498.0" width="578.9" height="425.4" fill="none" stroke="#000" stroke-width="3.4"/>
<line x1="749.8" y1="923.4" x2="749.8" y2="914.9" stroke="#000" stroke-width="2.6"/>
<text x="734.33" y="946.30" font-family='"Liberation Sans", sans-serif' font-weight="bold" font-size="18.7" fill="#000" stroke="#000" stroke-width="0.8">570</text>
<line x1="865.5" y1="923.4" x2="865.5" y2="914.9" stroke="#000" stroke-width="2.6"/>
<text x="849.89" y="946.30" font-family='"Liberation Sans", sans-serif' font-weight="bold" font-size="18.7" fill="#000" stroke="#000" stroke-width="0.8">575</text>
<line x1="981.2" y1="923.4" x2="981.2" y2="914.9" stroke="#000" stroke-width="2.6"/>
<text x="965.73" y="946.30" font-family='"Liberation Sans", sans-serif' font-weight="bold" font-size="18.7" fill="#000" stroke="#000" stroke-width="0.8">580</text>
<line x1="1096.9" y1="923.4" x2="1096.9" y2="914.9" stroke="#000" stroke-width="2.6"/>
<text x="1081.29" y="946.30" font-family='"Liberation Sans", sans-serif' font-weight="bold" font-size="18.7" fill="#000" stroke="#000" stroke-width="0.8">585</text>
<line x1="1212.6" y1="923.4" x2="1212.6" y2="914.9" stroke="#000" stroke-width="2.6"/>
<text x="1197.13" y="946.30" font-family='"Liberation Sans", sans-serif' font-weight="bold" font-size="18.7" fill="#000" stroke="#000" stroke-width="0.8">590</text>
<line x1="807.6" y1="923.4" x2="807.6" y2="918.4" stroke="#000" stroke-width="2.6"/>
<line x1="923.3" y1="923.4" x2="923.3" y2="918.4" stroke="#000" stroke-width="2.6"/>
<line x1="1039.0" y1="923.4" x2="1039.0" y2="918.4" stroke="#000" stroke-width="2.6"/>
<line x1="1154.8" y1="923.4" x2="1154.8" y2="918.4" stroke="#000" stroke-width="2.6"/>
<line x1="922" y1="515.5" x2="948.3" y2="515.5" stroke="#111" stroke-width="2.3"/>
<path d="M916.5 515.5 L926 512.4 L926 518.6 Z" fill="#111" stroke="#111" stroke-width="1" stroke-linejoin="round"/>
<line x1="832" y1="543.6" x2="941.5" y2="543.6" stroke="#111" stroke-width="2.3"/>
<path d="M826.5 543.6 L836 540.5 L836 546.7 Z" fill="#111" stroke="#111" stroke-width="1" stroke-linejoin="round"/>
<line x1="1148" y1="513.5" x2="1169" y2="513.5" stroke="#111" stroke-width="2.3"/>
<path d="M1142.5 513.5 L1152 510.4 L1152 516.6 Z" fill="#111" stroke="#111" stroke-width="1" stroke-linejoin="round"/>
<line x1="1074.5" y1="545.4" x2="1178.3" y2="545.4" stroke="#111" stroke-width="2.3"/>
<path d="M1069.0 545.4 L1078.5 542.3 L1078.5 548.5 Z" fill="#111" stroke="#111" stroke-width="1" stroke-linejoin="round"/>
<text x="701.20" y="536.10" font-family='"Liberation Serif", serif' font-weight="bold" font-size="33" fill="#000" stroke="#000" stroke-width="0.7" textLength="42.00" lengthAdjust="spacingAndGlyphs">(d)</text>
<text x="698.84" y="572.60" font-family='"Liberation Sans", sans-serif' font-weight="bold" font-size="18.5" fill="#000" stroke="#000" stroke-width="0.8" textLength="46.54" lengthAdjust="spacingAndGlyphs">Te3d</text>
<text x="952.65" y="520.80" font-family='"Liberation Sans", sans-serif' font-weight="bold" font-size="16.5" fill="#000" stroke="#000" stroke-width="0.8" textLength="71.52" lengthAdjust="spacingAndGlyphs">576.42eV</text>
<text x="946.24" y="549.20" font-family='"Liberation Sans", sans-serif' font-weight="bold" font-size="16.5" fill="#000" stroke="#000" stroke-width="0.8" textLength="72.13" lengthAdjust="spacingAndGlyphs">573.11eV</text>
<text x="1181.25" y="521.40" font-family='"Liberation Sans", sans-serif' font-weight="bold" font-size="16.5" fill="#000" stroke="#000" stroke-width="0.8" textLength="71.42" lengthAdjust="spacingAndGlyphs">583.57eV</text>
<text x="1187.05" y="549.80" font-family='"Liberation Sans", sans-serif' font-weight="bold" font-size="16.5" fill="#000" stroke="#000" stroke-width="0.8" textLength="71.52" lengthAdjust="spacingAndGlyphs">586.81eV</text>
<text x="1178.33" y="606.60" font-family='"Liberation Sans", sans-serif' font-weight="bold" font-size="18.5" fill="#1f8a84" stroke="#1f8a84" stroke-width="0.8" textLength="53.10" lengthAdjust="spacingAndGlyphs">HBr/N</text>
<text x="1231.06" y="614.00" font-family='"Liberation Sans", sans-serif' font-weight="bold" font-size="11" fill="#1f8a84" stroke="#1f8a84" stroke-width="0.8" textLength="6.14" lengthAdjust="spacingAndGlyphs">2</text>
<text x="1176.73" y="698.60" font-family='"Liberation Sans", sans-serif' font-weight="bold" font-size="18.5" fill="#2020a8" stroke="#2020a8" stroke-width="0.8" textLength="63.47" lengthAdjust="spacingAndGlyphs">HBr/He</text>
<text x="1182.05" y="777.20" font-family='"Liberation Sans", sans-serif' font-weight="bold" font-size="18.5" fill="#e02222" stroke="#e02222" stroke-width="0.8" textLength="53.31" lengthAdjust="spacingAndGlyphs">HBr/O</text>
<text x="1235.68" y="784.40" font-family='"Liberation Sans", sans-serif' font-weight="bold" font-size="11" fill="#e02222" stroke="#e02222" stroke-width="0.8" textLength="5.91" lengthAdjust="spacingAndGlyphs">2</text>
<text x="1182.06" y="882.60" font-family='"Liberation Sans", sans-serif' font-weight="bold" font-size="18.5" fill="#000000" stroke="#000000" stroke-width="0.8" textLength="58.97" lengthAdjust="spacingAndGlyphs">HBr/Ar</text>
<text x="885.42" y="968.20" font-family='"Liberation Sans", sans-serif' font-weight="bold" font-size="19.2" fill="#000" stroke="#000" stroke-width="0.8" textLength="190.53" lengthAdjust="spacingAndGlyphs">Binding Energy(eV)</text>
<text transform="translate(667.40,785.65) rotate(-90)" x="0" y="0" font-family='"Liberation Sans", sans-serif' font-weight="bold" font-size="19.9" fill="#000" stroke="#000" stroke-width="0.8" textLength="145.74" lengthAdjust="spacingAndGlyphs">Intensity (a.u.)</text>
</g></svg></div></body></html>
